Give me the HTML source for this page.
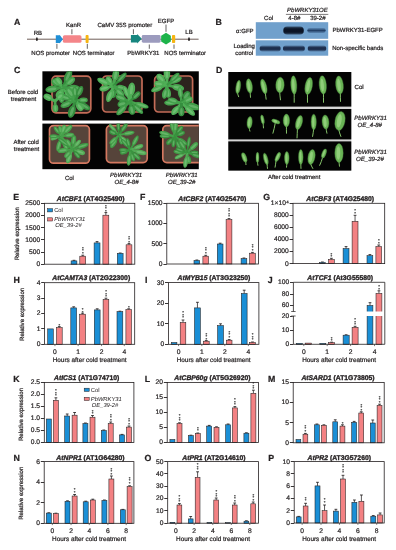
<!DOCTYPE html>
<html><head><meta charset="utf-8"><title>Figure</title>
<style>
html,body{margin:0;padding:0;background:#fff;}
body{width:396px;height:550px;overflow:hidden;}
svg{display:block;}
#w{width:396px;height:550px;}
svg text{font-family:'Liberation Sans', Arial, sans-serif;text-rendering:geometricPrecision;stroke:#231f20;}
svg text{stroke-width:0.22px;}
svg text.tt{stroke-width:0.32px;}
svg text.lg{stroke-width:0.02px;}
svg text.st{stroke-width:0.12px;stroke:#3a3a3a;}
</style></head><body><div id="w">
<svg width="396" height="550" viewBox="0 0 396 550">
<rect width="396" height="550" fill="#fff"/>
<text x="14.00" y="24.80" font-size="8.8" text-anchor="start" font-weight="bold" font-style="normal" fill="#231f20" >A</text>
<line x1="27" y1="39.2" x2="198.6" y2="39.2" stroke="#6e5d58" stroke-width="1"/>
<ellipse cx="36.90" cy="39.2" rx="0.9" ry="1.9" fill="#231f20"/>
<ellipse cx="189.00" cy="39.2" rx="0.9" ry="1.9" fill="#231f20"/>
<text x="37.90" y="34.50" font-size="6.0" text-anchor="middle" font-weight="normal" font-style="normal" fill="#231f20" >RB</text>
<text x="189.00" y="34.00" font-size="6.0" text-anchor="middle" font-weight="normal" font-style="normal" fill="#231f20" >LB</text>
<polygon points="55.8,35.3 59.6,35.3 59.6,34.7 62.9,39.2 59.6,43.6 59.6,43.0 55.8,43.0" fill="#1f8fd6"/>
<rect x="62.9" y="35.3" width="18.6" height="7.5" rx="1.6" fill="#f48589"/>
<rect x="85.6" y="35.1" width="3.0" height="7.9" rx="0.8" fill="#f6b412"/>
<line x1="71.9" y1="29.2" x2="71.9" y2="34.2" stroke="#231f20" stroke-width="0.7"/>
<line x1="56.9" y1="43.8" x2="56.9" y2="48.8" stroke="#231f20" stroke-width="0.7"/>
<line x1="87.3" y1="43.8" x2="87.3" y2="48.8" stroke="#231f20" stroke-width="0.7"/>
<line x1="133.4" y1="29.2" x2="133.4" y2="34.2" stroke="#231f20" stroke-width="0.7"/>
<line x1="166.0" y1="24.6" x2="166.0" y2="31.8" stroke="#231f20" stroke-width="0.7"/>
<line x1="149.3" y1="44.5" x2="149.3" y2="48.8" stroke="#231f20" stroke-width="0.7"/>
<line x1="174.0" y1="44.5" x2="174.0" y2="48.8" stroke="#231f20" stroke-width="0.7"/>
<text x="73.60" y="27.10" font-size="6.0" text-anchor="middle" font-weight="normal" font-style="normal" fill="#231f20" >KanR</text>
<text x="31.30" y="54.80" font-size="6.0" text-anchor="start" font-weight="normal" font-style="normal" fill="#231f20" >NOS promoter</text>
<text x="72.80" y="54.80" font-size="6.0" text-anchor="start" font-weight="normal" font-style="normal" fill="#231f20" >NOS terminator</text>
<text x="97.50" y="27.10" font-size="6.0" text-anchor="start" font-weight="normal" font-style="normal" fill="#231f20" >CaMV 35S promoter</text>
<text x="166.00" y="22.60" font-size="6.0" text-anchor="middle" font-weight="normal" font-style="normal" fill="#231f20" >EGFP</text>
<text x="127.30" y="54.80" font-size="6.0" text-anchor="start" font-weight="normal" font-style="normal" fill="#231f20" >PbWRKY31</text>
<text x="164.30" y="54.90" font-size="6.0" text-anchor="start" font-weight="normal" font-style="normal" fill="#231f20" >NOS terminator</text>
<polygon points="130.9,35.0 137.2,35.0 137.2,33.9 141.8,38.8 137.2,43.6 137.2,42.6 130.9,42.6" fill="#17867f"/>
<rect x="141.8" y="35.0" width="18.8" height="7.7" rx="1.4" fill="#9c9bbe"/>
<polygon points="170.85,41.54 166.00,44.48 161.15,41.54 161.15,35.66 166.00,32.72 170.85,35.66" fill="#1db34a"/>
<rect x="172.0" y="35.1" width="3.2" height="7.9" rx="0.8" fill="#f6b412"/>
<text x="215.60" y="24.60" font-size="8.8" text-anchor="start" font-weight="bold" font-style="normal" fill="#231f20" >B</text>
<rect x="255.8" y="22.2" width="72.4" height="16.6" fill="#70a0cc"/>
<rect x="255.8" y="40.3" width="72.4" height="15.4" fill="#70a0cc"/>
<defs><linearGradient id="bg1" x1="0" y1="0" x2="0" y2="1"><stop offset="0" stop-color="#0b1426" stop-opacity="0.55"/><stop offset="0.3" stop-color="#0b1426"/><stop offset="0.7" stop-color="#0b1426"/><stop offset="1" stop-color="#0b1426" stop-opacity="0.55"/></linearGradient><linearGradient id="bg2" x1="0" y1="0" x2="0" y2="1"><stop offset="0" stop-color="#1c2d4c" stop-opacity="0.35"/><stop offset="0.35" stop-color="#1c2d4c"/><stop offset="0.65" stop-color="#1c2d4c"/><stop offset="1" stop-color="#1c2d4c" stop-opacity="0.35"/></linearGradient><linearGradient id="bg3" x1="0" y1="0" x2="0" y2="1"><stop offset="0" stop-color="#2b4a72" stop-opacity="0.3"/><stop offset="0.5" stop-color="#223f66"/><stop offset="1" stop-color="#2b4a72" stop-opacity="0.3"/></linearGradient></defs>
<rect x="283.3" y="26.4" width="20.5" height="8.2" rx="3.8" fill="url(#bg1)"/>
<rect x="307.3" y="28.0" width="18.4" height="5.0" rx="2.4" fill="url(#bg3)"/>
<rect x="259.7" y="45.6" width="20.9" height="5.8" rx="2.7" fill="url(#bg2)"/>
<rect x="283.0" y="45.6" width="21.8" height="5.8" rx="2.7" fill="url(#bg2)"/>
<rect x="307.8" y="45.6" width="18.4" height="5.8" rx="2.7" fill="url(#bg2)"/>
<text x="268.60" y="20.40" font-size="6.0" text-anchor="middle" font-weight="normal" font-style="normal" fill="#231f20" >Col</text>
<text x="287.10" y="12.30" font-size="6.0" text-anchor="start" font-weight="normal" font-style="italic" fill="#231f20" >PbWRKY31OE</text>
<line x1="285.9" y1="14.4" x2="328.3" y2="14.4" stroke="#231f20" stroke-width="0.6"/>
<text x="288.30" y="20.00" font-size="6.0" text-anchor="start" font-weight="normal" font-style="normal" fill="#231f20" >4-8#</text>
<text x="310.20" y="20.00" font-size="6.0" text-anchor="start" font-weight="normal" font-style="normal" fill="#231f20" >39-2#</text>
<text x="253.60" y="32.70" font-size="6.0" text-anchor="end" font-weight="normal" font-style="normal" fill="#231f20" >α:GFP</text>
<text x="244.20" y="48.00" font-size="6.0" text-anchor="middle" font-weight="normal" font-style="normal" fill="#231f20" >Loading</text>
<text x="244.20" y="54.60" font-size="6.0" text-anchor="middle" font-weight="normal" font-style="normal" fill="#231f20" >control</text>
<text x="332.40" y="31.60" font-size="6.0" text-anchor="start" font-weight="normal" font-style="normal" fill="#231f20" >PbWRKY31-EGFP</text>
<text x="332.20" y="49.80" font-size="6.0" text-anchor="start" font-weight="normal" font-style="normal" fill="#231f20" >Non-specific bands</text>
<text x="13.90" y="73.20" font-size="8.8" text-anchor="start" font-weight="bold" font-style="normal" fill="#231f20" >C</text>
<rect x="42.4" y="71.3" width="156.4" height="49.2" fill="#030303"/>
<rect x="42.4" y="123.6" width="156.4" height="45.6" fill="#030303"/>
<clipPath id="cC1"><rect x="42.4" y="71.3" width="156.4" height="49.2"/></clipPath>
<clipPath id="cC2"><rect x="42.4" y="123.6" width="156.4" height="45.6"/></clipPath>
<g clip-path="url(#cC1)"><rect x="52.0" y="76.2" width="38.8" height="36.6" rx="4" fill="#2c231d" stroke="#c46c58" stroke-width="1.7"/><rect x="102.6" y="76.0" width="39.4" height="36.0" rx="4" fill="#2c231d" stroke="#c46c58" stroke-width="1.7"/><rect x="154.6" y="76.0" width="38.0" height="36.0" rx="4" fill="#2c231d" stroke="#c46c58" stroke-width="1.7"/><line x1="63.00" y1="87.50" x2="66.22" y2="92.81" stroke="#4fae56" stroke-width="2.60"/><ellipse cx="68.88" cy="97.21" rx="6.39" ry="2.89" transform="rotate(58.8 68.88 97.21)" fill="#4fae56"/><ellipse cx="68.88" cy="97.21" rx="4.61" ry="1.15" transform="rotate(58.8 68.88 97.21)" fill="#9ad89a" opacity="0.38"/><line x1="63.00" y1="87.50" x2="62.41" y2="92.90" stroke="#44a14c" stroke-width="2.74"/><ellipse cx="61.93" cy="97.37" rx="5.58" ry="3.05" transform="rotate(96.2 61.93 97.37)" fill="#44a14c"/><ellipse cx="61.93" cy="97.37" rx="4.03" ry="1.22" transform="rotate(96.2 61.93 97.37)" fill="#9ad89a" opacity="0.38"/><line x1="63.00" y1="87.50" x2="61.13" y2="91.31" stroke="#4fae56" stroke-width="3.27"/><ellipse cx="59.58" cy="94.46" rx="4.36" ry="3.63" transform="rotate(116.2 59.58 94.46)" fill="#4fae56"/><ellipse cx="59.58" cy="94.46" rx="3.15" ry="1.45" transform="rotate(116.2 59.58 94.46)" fill="#9ad89a" opacity="0.38"/><line x1="63.00" y1="87.50" x2="56.85" y2="88.41" stroke="#3f9b47" stroke-width="3.11"/><ellipse cx="51.75" cy="89.16" rx="6.40" ry="3.45" transform="rotate(171.6 51.75 89.16)" fill="#3f9b47"/><ellipse cx="51.75" cy="89.16" rx="4.62" ry="1.38" transform="rotate(171.6 51.75 89.16)" fill="#9ad89a" opacity="0.38"/><line x1="63.00" y1="87.50" x2="59.09" y2="84.76" stroke="#3f9b47" stroke-width="3.39"/><ellipse cx="55.85" cy="82.49" rx="4.91" ry="3.77" transform="rotate(215.0 55.85 82.49)" fill="#3f9b47"/><ellipse cx="55.85" cy="82.49" rx="3.55" ry="1.51" transform="rotate(215.0 55.85 82.49)" fill="#9ad89a" opacity="0.38"/><line x1="63.00" y1="87.50" x2="60.53" y2="84.06" stroke="#4fae56" stroke-width="2.93"/><ellipse cx="58.48" cy="81.21" rx="4.35" ry="3.25" transform="rotate(234.3 58.48 81.21)" fill="#4fae56"/><ellipse cx="58.48" cy="81.21" rx="3.14" ry="1.30" transform="rotate(234.3 58.48 81.21)" fill="#9ad89a" opacity="0.38"/><line x1="63.00" y1="87.50" x2="65.75" y2="81.32" stroke="#358e3e" stroke-width="3.14"/><ellipse cx="68.02" cy="76.21" rx="6.95" ry="3.49" transform="rotate(294.0 68.02 76.21)" fill="#358e3e"/><ellipse cx="68.02" cy="76.21" rx="5.02" ry="1.40" transform="rotate(294.0 68.02 76.21)" fill="#9ad89a" opacity="0.38"/><line x1="63.00" y1="87.50" x2="67.09" y2="84.07" stroke="#44a14c" stroke-width="2.88"/><ellipse cx="70.48" cy="81.23" rx="5.49" ry="3.19" transform="rotate(320.0 70.48 81.23)" fill="#44a14c"/><ellipse cx="70.48" cy="81.23" rx="3.96" ry="1.28" transform="rotate(320.0 70.48 81.23)" fill="#9ad89a" opacity="0.38"/><line x1="63.00" y1="87.50" x2="68.96" y2="87.89" stroke="#3f9b47" stroke-width="3.18"/><ellipse cx="73.91" cy="88.21" rx="6.15" ry="3.53" transform="rotate(363.7 73.91 88.21)" fill="#3f9b47"/><ellipse cx="73.91" cy="88.21" rx="4.44" ry="1.41" transform="rotate(363.7 73.91 88.21)" fill="#9ad89a" opacity="0.38"/><line x1="75.50" y1="100.50" x2="79.81" y2="100.32" stroke="#44a14c" stroke-width="2.40"/><ellipse cx="83.39" cy="100.17" rx="4.44" ry="2.67" transform="rotate(357.6 83.39 100.17)" fill="#44a14c"/><ellipse cx="83.39" cy="100.17" rx="3.21" ry="1.07" transform="rotate(357.6 83.39 100.17)" fill="#9ad89a" opacity="0.38"/><line x1="75.50" y1="100.50" x2="80.59" y2="103.59" stroke="#358e3e" stroke-width="2.66"/><ellipse cx="84.81" cy="106.15" rx="6.13" ry="2.95" transform="rotate(391.3 84.81 106.15)" fill="#358e3e"/><ellipse cx="84.81" cy="106.15" rx="4.43" ry="1.18" transform="rotate(391.3 84.81 106.15)" fill="#9ad89a" opacity="0.38"/><line x1="75.50" y1="100.50" x2="77.91" y2="104.01" stroke="#4fae56" stroke-width="3.09"/><ellipse cx="79.91" cy="106.92" rx="4.38" ry="3.43" transform="rotate(415.5 79.91 106.92)" fill="#4fae56"/><ellipse cx="79.91" cy="106.92" rx="3.17" ry="1.37" transform="rotate(415.5 79.91 106.92)" fill="#9ad89a" opacity="0.38"/><line x1="75.50" y1="100.50" x2="73.51" y2="106.50" stroke="#358e3e" stroke-width="3.30"/><ellipse cx="71.87" cy="111.46" rx="6.50" ry="3.66" transform="rotate(468.3 71.87 111.46)" fill="#358e3e"/><ellipse cx="71.87" cy="111.46" rx="4.69" ry="1.46" transform="rotate(468.3 71.87 111.46)" fill="#9ad89a" opacity="0.38"/><line x1="75.50" y1="100.50" x2="70.30" y2="102.64" stroke="#3f9b47" stroke-width="2.82"/><ellipse cx="65.99" cy="104.41" rx="5.78" ry="3.13" transform="rotate(517.7 65.99 104.41)" fill="#3f9b47"/><ellipse cx="65.99" cy="104.41" rx="4.18" ry="1.25" transform="rotate(517.7 65.99 104.41)" fill="#9ad89a" opacity="0.38"/><line x1="75.50" y1="100.50" x2="69.26" y2="98.69" stroke="#3f9b47" stroke-width="2.72"/><ellipse cx="64.09" cy="97.18" rx="6.68" ry="3.03" transform="rotate(556.2 64.09 97.18)" fill="#3f9b47"/><ellipse cx="64.09" cy="97.18" rx="4.83" ry="1.21" transform="rotate(556.2 64.09 97.18)" fill="#9ad89a" opacity="0.38"/><line x1="75.50" y1="100.50" x2="72.57" y2="96.09" stroke="#44a14c" stroke-width="3.32"/><ellipse cx="70.14" cy="92.43" rx="5.45" ry="3.69" transform="rotate(596.4 70.14 92.43)" fill="#44a14c"/><ellipse cx="70.14" cy="92.43" rx="3.94" ry="1.48" transform="rotate(596.4 70.14 92.43)" fill="#9ad89a" opacity="0.38"/><line x1="75.50" y1="100.50" x2="75.16" y2="95.71" stroke="#3f9b47" stroke-width="2.33"/><ellipse cx="74.89" cy="91.75" rx="4.93" ry="2.59" transform="rotate(626.0 74.89 91.75)" fill="#3f9b47"/><ellipse cx="74.89" cy="91.75" rx="3.56" ry="1.04" transform="rotate(626.0 74.89 91.75)" fill="#9ad89a" opacity="0.38"/><line x1="75.50" y1="100.50" x2="77.78" y2="95.46" stroke="#358e3e" stroke-width="2.72"/><ellipse cx="79.67" cy="91.29" rx="5.69" ry="3.02" transform="rotate(654.4 79.67 91.29)" fill="#358e3e"/><ellipse cx="79.67" cy="91.29" rx="4.11" ry="1.21" transform="rotate(654.4 79.67 91.29)" fill="#9ad89a" opacity="0.38"/><line x1="55.00" y1="101.00" x2="55.21" y2="104.94" stroke="#48a64f" stroke-width="2.62"/><ellipse cx="55.38" cy="108.20" rx="4.06" ry="2.92" transform="rotate(87.0 55.38 108.20)" fill="#48a64f"/><ellipse cx="55.38" cy="108.20" rx="2.93" ry="1.17" transform="rotate(87.0 55.38 108.20)" fill="#9ad89a" opacity="0.38"/><line x1="55.00" y1="101.00" x2="51.10" y2="98.92" stroke="#4fae56" stroke-width="2.93"/><ellipse cx="47.86" cy="97.19" rx="4.55" ry="3.26" transform="rotate(208.1 47.86 97.19)" fill="#4fae56"/><ellipse cx="47.86" cy="97.19" rx="3.29" ry="1.30" transform="rotate(208.1 47.86 97.19)" fill="#9ad89a" opacity="0.38"/><line x1="55.00" y1="101.00" x2="57.74" y2="98.57" stroke="#4fae56" stroke-width="3.02"/><ellipse cx="60.01" cy="96.55" rx="3.77" ry="3.36" transform="rotate(318.4 60.01 96.55)" fill="#4fae56"/><ellipse cx="60.01" cy="96.55" rx="2.72" ry="1.34" transform="rotate(318.4 60.01 96.55)" fill="#9ad89a" opacity="0.38"/><line x1="113.50" y1="86.00" x2="113.10" y2="90.22" stroke="#3a9643" stroke-width="3.02"/><ellipse cx="112.76" cy="93.71" rx="4.36" ry="3.35" transform="rotate(95.5 112.76 93.71)" fill="#3a9643"/><ellipse cx="112.76" cy="93.71" rx="3.15" ry="1.34" transform="rotate(95.5 112.76 93.71)" fill="#9ad89a" opacity="0.38"/><line x1="113.50" y1="86.00" x2="111.39" y2="91.58" stroke="#4fae56" stroke-width="2.80"/><ellipse cx="109.64" cy="96.20" rx="6.13" ry="3.11" transform="rotate(110.7 109.64 96.20)" fill="#4fae56"/><ellipse cx="109.64" cy="96.20" rx="4.43" ry="1.24" transform="rotate(110.7 109.64 96.20)" fill="#9ad89a" opacity="0.38"/><line x1="113.50" y1="86.00" x2="108.58" y2="87.24" stroke="#4fae56" stroke-width="2.74"/><ellipse cx="104.50" cy="88.27" rx="5.22" ry="3.04" transform="rotate(165.9 104.50 88.27)" fill="#4fae56"/><ellipse cx="104.50" cy="88.27" rx="3.77" ry="1.22" transform="rotate(165.9 104.50 88.27)" fill="#9ad89a" opacity="0.38"/><line x1="113.50" y1="86.00" x2="107.84" y2="83.50" stroke="#4fae56" stroke-width="2.68"/><ellipse cx="103.16" cy="81.44" rx="6.36" ry="2.98" transform="rotate(203.8 103.16 81.44)" fill="#4fae56"/><ellipse cx="103.16" cy="81.44" rx="4.59" ry="1.19" transform="rotate(203.8 103.16 81.44)" fill="#9ad89a" opacity="0.38"/><line x1="113.50" y1="86.00" x2="111.15" y2="82.80" stroke="#4fae56" stroke-width="2.53"/><ellipse cx="109.20" cy="80.15" rx="4.08" ry="2.81" transform="rotate(233.6 109.20 80.15)" fill="#4fae56"/><ellipse cx="109.20" cy="80.15" rx="2.95" ry="1.12" transform="rotate(233.6 109.20 80.15)" fill="#9ad89a" opacity="0.38"/><line x1="113.50" y1="86.00" x2="114.67" y2="79.89" stroke="#48a64f" stroke-width="3.04"/><ellipse cx="115.64" cy="74.84" rx="6.39" ry="3.38" transform="rotate(280.8 115.64 74.84)" fill="#48a64f"/><ellipse cx="115.64" cy="74.84" rx="4.62" ry="1.35" transform="rotate(280.8 115.64 74.84)" fill="#9ad89a" opacity="0.38"/><line x1="113.50" y1="86.00" x2="117.99" y2="81.41" stroke="#358e3e" stroke-width="2.30"/><ellipse cx="121.71" cy="77.61" rx="6.60" ry="2.56" transform="rotate(314.4 121.71 77.61)" fill="#358e3e"/><ellipse cx="121.71" cy="77.61" rx="4.77" ry="1.02" transform="rotate(314.4 121.71 77.61)" fill="#9ad89a" opacity="0.38"/><line x1="113.50" y1="86.00" x2="117.61" y2="86.84" stroke="#44a14c" stroke-width="2.30"/><ellipse cx="121.01" cy="87.53" rx="4.31" ry="2.55" transform="rotate(371.5 121.01 87.53)" fill="#44a14c"/><ellipse cx="121.01" cy="87.53" rx="3.11" ry="1.02" transform="rotate(371.5 121.01 87.53)" fill="#9ad89a" opacity="0.38"/><line x1="113.50" y1="86.00" x2="117.01" y2="89.81" stroke="#44a14c" stroke-width="2.96"/><ellipse cx="119.91" cy="92.96" rx="5.32" ry="3.29" transform="rotate(407.4 119.91 92.96)" fill="#44a14c"/><ellipse cx="119.91" cy="92.96" rx="3.84" ry="1.31" transform="rotate(407.4 119.91 92.96)" fill="#9ad89a" opacity="0.38"/><line x1="130.00" y1="101.50" x2="125.66" y2="102.84" stroke="#3a9643" stroke-width="3.20"/><ellipse cx="122.07" cy="103.94" rx="4.67" ry="3.55" transform="rotate(162.9 122.07 103.94)" fill="#3a9643"/><ellipse cx="122.07" cy="103.94" rx="3.37" ry="1.42" transform="rotate(162.9 122.07 103.94)" fill="#9ad89a" opacity="0.38"/><line x1="130.00" y1="101.50" x2="124.98" y2="99.49" stroke="#3f9b47" stroke-width="2.91"/><ellipse cx="120.82" cy="97.82" rx="5.56" ry="3.23" transform="rotate(201.8 120.82 97.82)" fill="#3f9b47"/><ellipse cx="120.82" cy="97.82" rx="4.02" ry="1.29" transform="rotate(201.8 120.82 97.82)" fill="#9ad89a" opacity="0.38"/><line x1="130.00" y1="101.50" x2="127.85" y2="96.10" stroke="#4fae56" stroke-width="2.28"/><ellipse cx="126.07" cy="91.62" rx="5.98" ry="2.53" transform="rotate(248.3 126.07 91.62)" fill="#4fae56"/><ellipse cx="126.07" cy="91.62" rx="4.32" ry="1.01" transform="rotate(248.3 126.07 91.62)" fill="#9ad89a" opacity="0.38"/><line x1="130.00" y1="101.50" x2="130.79" y2="94.85" stroke="#4fae56" stroke-width="3.29"/><ellipse cx="131.44" cy="89.34" rx="6.89" ry="3.66" transform="rotate(276.8 131.44 89.34)" fill="#4fae56"/><ellipse cx="131.44" cy="89.34" rx="4.98" ry="1.46" transform="rotate(276.8 131.44 89.34)" fill="#9ad89a" opacity="0.38"/><line x1="130.00" y1="101.50" x2="133.48" y2="98.19" stroke="#358e3e" stroke-width="2.36"/><ellipse cx="136.36" cy="95.44" rx="4.94" ry="2.62" transform="rotate(316.4 136.36 95.44)" fill="#358e3e"/><ellipse cx="136.36" cy="95.44" rx="3.57" ry="1.05" transform="rotate(316.4 136.36 95.44)" fill="#9ad89a" opacity="0.38"/><line x1="130.00" y1="101.50" x2="136.49" y2="103.59" stroke="#48a64f" stroke-width="2.30"/><ellipse cx="141.87" cy="105.32" rx="7.01" ry="2.56" transform="rotate(377.8 141.87 105.32)" fill="#48a64f"/><ellipse cx="141.87" cy="105.32" rx="5.07" ry="1.02" transform="rotate(377.8 141.87 105.32)" fill="#9ad89a" opacity="0.38"/><line x1="130.00" y1="101.50" x2="134.49" y2="105.72" stroke="#3f9b47" stroke-width="2.35"/><ellipse cx="138.22" cy="109.21" rx="6.34" ry="2.61" transform="rotate(403.2 138.22 109.21)" fill="#3f9b47"/><ellipse cx="138.22" cy="109.21" rx="4.58" ry="1.04" transform="rotate(403.2 138.22 109.21)" fill="#9ad89a" opacity="0.38"/><line x1="130.00" y1="101.50" x2="131.00" y2="106.16" stroke="#3a9643" stroke-width="3.12"/><ellipse cx="131.84" cy="110.02" rx="4.90" ry="3.46" transform="rotate(437.8 131.84 110.02)" fill="#3a9643"/><ellipse cx="131.84" cy="110.02" rx="3.54" ry="1.39" transform="rotate(437.8 131.84 110.02)" fill="#9ad89a" opacity="0.38"/><line x1="130.00" y1="101.50" x2="125.34" y2="106.18" stroke="#3f9b47" stroke-width="2.67"/><ellipse cx="121.48" cy="110.06" rx="6.79" ry="2.97" transform="rotate(494.9 121.48 110.06)" fill="#3f9b47"/><ellipse cx="121.48" cy="110.06" rx="4.91" ry="1.19" transform="rotate(494.9 121.48 110.06)" fill="#9ad89a" opacity="0.38"/><line x1="167.00" y1="85.00" x2="172.14" y2="82.36" stroke="#44a14c" stroke-width="2.41"/><ellipse cx="176.39" cy="80.18" rx="5.94" ry="2.68" transform="rotate(332.8 176.39 80.18)" fill="#44a14c"/><ellipse cx="176.39" cy="80.18" rx="4.29" ry="1.07" transform="rotate(332.8 176.39 80.18)" fill="#9ad89a" opacity="0.38"/><line x1="167.00" y1="85.00" x2="172.98" y2="86.38" stroke="#48a64f" stroke-width="2.99"/><ellipse cx="177.93" cy="87.52" rx="6.31" ry="3.32" transform="rotate(373.0 177.93 87.52)" fill="#48a64f"/><ellipse cx="177.93" cy="87.52" rx="4.56" ry="1.33" transform="rotate(373.0 177.93 87.52)" fill="#9ad89a" opacity="0.38"/><line x1="167.00" y1="85.00" x2="167.59" y2="89.49" stroke="#48a64f" stroke-width="2.61"/><ellipse cx="168.08" cy="93.20" rx="4.65" ry="2.90" transform="rotate(442.5 168.08 93.20)" fill="#48a64f"/><ellipse cx="168.08" cy="93.20" rx="3.36" ry="1.16" transform="rotate(442.5 168.08 93.20)" fill="#9ad89a" opacity="0.38"/><line x1="167.00" y1="85.00" x2="165.88" y2="89.78" stroke="#44a14c" stroke-width="2.62"/><ellipse cx="164.96" cy="93.74" rx="5.05" ry="2.91" transform="rotate(463.2 164.96 93.74)" fill="#44a14c"/><ellipse cx="164.96" cy="93.74" rx="3.65" ry="1.16" transform="rotate(463.2 164.96 93.74)" fill="#9ad89a" opacity="0.38"/><line x1="167.00" y1="85.00" x2="161.47" y2="87.15" stroke="#48a64f" stroke-width="2.48"/><ellipse cx="156.90" cy="88.93" rx="6.10" ry="2.76" transform="rotate(518.7 156.90 88.93)" fill="#48a64f"/><ellipse cx="156.90" cy="88.93" rx="4.41" ry="1.10" transform="rotate(518.7 156.90 88.93)" fill="#9ad89a" opacity="0.38"/><line x1="167.00" y1="85.00" x2="162.54" y2="84.39" stroke="#4fae56" stroke-width="2.74"/><ellipse cx="158.84" cy="83.88" rx="4.63" ry="3.04" transform="rotate(547.8 158.84 83.88)" fill="#4fae56"/><ellipse cx="158.84" cy="83.88" rx="3.35" ry="1.22" transform="rotate(547.8 158.84 83.88)" fill="#9ad89a" opacity="0.38"/><line x1="167.00" y1="85.00" x2="163.55" y2="81.27" stroke="#4fae56" stroke-width="3.12"/><ellipse cx="160.68" cy="78.18" rx="5.23" ry="3.47" transform="rotate(587.2 160.68 78.18)" fill="#4fae56"/><ellipse cx="160.68" cy="78.18" rx="3.78" ry="1.39" transform="rotate(587.2 160.68 78.18)" fill="#9ad89a" opacity="0.38"/><line x1="167.00" y1="85.00" x2="166.95" y2="78.74" stroke="#4fae56" stroke-width="2.95"/><ellipse cx="166.92" cy="73.55" rx="6.44" ry="3.28" transform="rotate(629.6 166.92 73.55)" fill="#4fae56"/><ellipse cx="166.92" cy="73.55" rx="4.65" ry="1.31" transform="rotate(629.6 166.92 73.55)" fill="#9ad89a" opacity="0.38"/><line x1="167.00" y1="85.00" x2="171.27" y2="80.84" stroke="#3a9643" stroke-width="2.31"/><ellipse cx="174.81" cy="77.40" rx="6.13" ry="2.56" transform="rotate(675.8 174.81 77.40)" fill="#3a9643"/><ellipse cx="174.81" cy="77.40" rx="4.43" ry="1.02" transform="rotate(675.8 174.81 77.40)" fill="#9ad89a" opacity="0.38"/><line x1="181.50" y1="103.00" x2="178.14" y2="107.07" stroke="#4fae56" stroke-width="2.73"/><ellipse cx="175.35" cy="110.45" rx="5.43" ry="3.03" transform="rotate(129.6 175.35 110.45)" fill="#4fae56"/><ellipse cx="175.35" cy="110.45" rx="3.92" ry="1.21" transform="rotate(129.6 175.35 110.45)" fill="#9ad89a" opacity="0.38"/><line x1="181.50" y1="103.00" x2="175.43" y2="102.92" stroke="#44a14c" stroke-width="2.50"/><ellipse cx="170.40" cy="102.85" rx="6.24" ry="2.77" transform="rotate(180.8 170.40 102.85)" fill="#44a14c"/><ellipse cx="170.40" cy="102.85" rx="4.51" ry="1.11" transform="rotate(180.8 170.40 102.85)" fill="#9ad89a" opacity="0.38"/><line x1="181.50" y1="103.00" x2="176.71" y2="101.67" stroke="#44a14c" stroke-width="2.61"/><ellipse cx="172.73" cy="100.58" rx="5.12" ry="2.90" transform="rotate(195.5 172.73 100.58)" fill="#44a14c"/><ellipse cx="172.73" cy="100.58" rx="3.69" ry="1.16" transform="rotate(195.5 172.73 100.58)" fill="#9ad89a" opacity="0.38"/><line x1="181.50" y1="103.00" x2="180.87" y2="97.26" stroke="#44a14c" stroke-width="2.26"/><ellipse cx="180.34" cy="92.50" rx="5.94" ry="2.51" transform="rotate(263.7 180.34 92.50)" fill="#44a14c"/><ellipse cx="180.34" cy="92.50" rx="4.29" ry="1.00" transform="rotate(263.7 180.34 92.50)" fill="#9ad89a" opacity="0.38"/><line x1="181.50" y1="103.00" x2="184.20" y2="98.98" stroke="#358e3e" stroke-width="3.23"/><ellipse cx="186.43" cy="95.64" rx="4.98" ry="3.59" transform="rotate(303.8 186.43 95.64)" fill="#358e3e"/><ellipse cx="186.43" cy="95.64" rx="3.60" ry="1.44" transform="rotate(303.8 186.43 95.64)" fill="#9ad89a" opacity="0.38"/><line x1="181.50" y1="103.00" x2="185.35" y2="101.22" stroke="#48a64f" stroke-width="2.74"/><ellipse cx="188.53" cy="99.75" rx="4.36" ry="3.05" transform="rotate(335.2 188.53 99.75)" fill="#48a64f"/><ellipse cx="188.53" cy="99.75" rx="3.15" ry="1.22" transform="rotate(335.2 188.53 99.75)" fill="#9ad89a" opacity="0.38"/><line x1="181.50" y1="103.00" x2="188.03" y2="104.90" stroke="#3f9b47" stroke-width="3.11"/><ellipse cx="193.44" cy="106.48" rx="7.00" ry="3.45" transform="rotate(376.3 193.44 106.48)" fill="#3f9b47"/><ellipse cx="193.44" cy="106.48" rx="5.05" ry="1.38" transform="rotate(376.3 193.44 106.48)" fill="#9ad89a" opacity="0.38"/><line x1="181.50" y1="103.00" x2="186.10" y2="107.27" stroke="#4fae56" stroke-width="2.62"/><ellipse cx="189.91" cy="110.81" rx="6.45" ry="2.91" transform="rotate(402.9 189.91 110.81)" fill="#4fae56"/><ellipse cx="189.91" cy="110.81" rx="4.66" ry="1.16" transform="rotate(402.9 189.91 110.81)" fill="#9ad89a" opacity="0.38"/><line x1="181.50" y1="103.00" x2="181.45" y2="107.63" stroke="#358e3e" stroke-width="2.86"/><ellipse cx="181.40" cy="111.46" rx="4.76" ry="3.18" transform="rotate(450.7 181.40 111.46)" fill="#358e3e"/><ellipse cx="181.40" cy="111.46" rx="3.44" ry="1.27" transform="rotate(450.7 181.40 111.46)" fill="#9ad89a" opacity="0.38"/></g>
<g clip-path="url(#cC2)"><rect x="49.5" y="125.6" width="39.9" height="37.6" rx="4" fill="#56443a" stroke="#d47860" stroke-width="1.7"/><rect x="106.4" y="125.6" width="40.8" height="37.0" rx="4" fill="#56443a" stroke="#d47860" stroke-width="1.7"/><rect x="162.8" y="125.6" width="40.2" height="37.0" rx="4" fill="#56443a" stroke="#d47860" stroke-width="1.7"/><line x1="61.20" y1="136.20" x2="65.77" y2="135.62" stroke="#46a04a" stroke-width="2.13"/><ellipse cx="69.55" cy="135.14" rx="4.73" ry="2.36" transform="rotate(-7.2 69.55 135.14)" fill="#46a04a"/><ellipse cx="69.55" cy="135.14" rx="3.42" ry="0.94" transform="rotate(-7.2 69.55 135.14)" fill="#9ad89a" opacity="0.38"/><line x1="61.20" y1="136.20" x2="64.11" y2="140.19" stroke="#46a04a" stroke-width="2.15"/><ellipse cx="66.52" cy="143.50" rx="5.08" ry="2.39" transform="rotate(53.9 66.52 143.50)" fill="#46a04a"/><ellipse cx="66.52" cy="143.50" rx="3.67" ry="0.95" transform="rotate(53.9 66.52 143.50)" fill="#9ad89a" opacity="0.38"/><line x1="61.20" y1="136.20" x2="63.42" y2="141.15" stroke="#46a04a" stroke-width="2.11"/><ellipse cx="65.26" cy="145.25" rx="5.58" ry="2.34" transform="rotate(65.8 65.26 145.25)" fill="#46a04a"/><ellipse cx="65.26" cy="145.25" rx="4.03" ry="0.94" transform="rotate(65.8 65.26 145.25)" fill="#9ad89a" opacity="0.38"/><line x1="61.20" y1="136.20" x2="59.86" y2="141.44" stroke="#46a04a" stroke-width="2.00"/><ellipse cx="58.75" cy="145.78" rx="5.56" ry="2.22" transform="rotate(104.4 58.75 145.78)" fill="#46a04a"/><ellipse cx="58.75" cy="145.78" rx="4.02" ry="0.89" transform="rotate(104.4 58.75 145.78)" fill="#9ad89a" opacity="0.38"/><line x1="61.20" y1="136.20" x2="57.47" y2="137.32" stroke="#52aa55" stroke-width="1.60"/><ellipse cx="54.38" cy="138.25" rx="4.01" ry="1.78" transform="rotate(163.3 54.38 138.25)" fill="#52aa55"/><ellipse cx="54.38" cy="138.25" rx="2.89" ry="0.71" transform="rotate(163.3 54.38 138.25)" fill="#9ad89a" opacity="0.38"/><line x1="61.20" y1="136.20" x2="57.04" y2="136.22" stroke="#3f9944" stroke-width="1.89"/><ellipse cx="53.59" cy="136.24" rx="4.28" ry="2.10" transform="rotate(179.7 53.59 136.24)" fill="#3f9944"/><ellipse cx="53.59" cy="136.24" rx="3.09" ry="0.84" transform="rotate(179.7 53.59 136.24)" fill="#9ad89a" opacity="0.38"/><line x1="61.20" y1="136.20" x2="58.75" y2="132.82" stroke="#3f9944" stroke-width="1.76"/><ellipse cx="56.72" cy="130.02" rx="4.29" ry="1.95" transform="rotate(234.1 56.72 130.02)" fill="#3f9944"/><ellipse cx="56.72" cy="130.02" rx="3.10" ry="0.78" transform="rotate(234.1 56.72 130.02)" fill="#9ad89a" opacity="0.38"/><line x1="61.20" y1="136.20" x2="60.62" y2="132.43" stroke="#46a04a" stroke-width="1.62"/><ellipse cx="60.14" cy="129.30" rx="3.93" ry="1.81" transform="rotate(261.3 60.14 129.30)" fill="#46a04a"/><ellipse cx="60.14" cy="129.30" rx="2.84" ry="0.72" transform="rotate(261.3 60.14 129.30)" fill="#9ad89a" opacity="0.38"/><line x1="61.20" y1="136.20" x2="62.49" y2="132.25" stroke="#52aa55" stroke-width="2.25"/><ellipse cx="63.56" cy="128.97" rx="4.28" ry="2.50" transform="rotate(288.1 63.56 128.97)" fill="#52aa55"/><ellipse cx="63.56" cy="128.97" rx="3.09" ry="1.00" transform="rotate(288.1 63.56 128.97)" fill="#9ad89a" opacity="0.38"/><line x1="61.20" y1="136.20" x2="64.98" y2="132.33" stroke="#46a04a" stroke-width="2.27"/><ellipse cx="68.11" cy="129.12" rx="5.57" ry="2.52" transform="rotate(314.3 68.11 129.12)" fill="#46a04a"/><ellipse cx="68.11" cy="129.12" rx="4.02" ry="1.01" transform="rotate(314.3 68.11 129.12)" fill="#9ad89a" opacity="0.38"/><line x1="72.30" y1="149.30" x2="76.72" y2="150.85" stroke="#52aa55" stroke-width="2.30"/><ellipse cx="80.38" cy="152.13" rx="4.82" ry="2.55" transform="rotate(19.3 80.38 152.13)" fill="#52aa55"/><ellipse cx="80.38" cy="152.13" rx="3.48" ry="1.02" transform="rotate(19.3 80.38 152.13)" fill="#9ad89a" opacity="0.38"/><line x1="72.30" y1="149.30" x2="74.90" y2="152.36" stroke="#37903d" stroke-width="1.84"/><ellipse cx="77.06" cy="154.89" rx="4.13" ry="2.05" transform="rotate(49.6 77.06 154.89)" fill="#37903d"/><ellipse cx="77.06" cy="154.89" rx="2.98" ry="0.82" transform="rotate(49.6 77.06 154.89)" fill="#9ad89a" opacity="0.38"/><line x1="72.30" y1="149.30" x2="70.49" y2="154.22" stroke="#52aa55" stroke-width="2.33"/><ellipse cx="69.00" cy="158.29" rx="5.39" ry="2.59" transform="rotate(110.2 69.00 158.29)" fill="#52aa55"/><ellipse cx="69.00" cy="158.29" rx="3.89" ry="1.04" transform="rotate(110.2 69.00 158.29)" fill="#9ad89a" opacity="0.38"/><line x1="72.30" y1="149.30" x2="69.68" y2="152.21" stroke="#46a04a" stroke-width="2.18"/><ellipse cx="67.50" cy="154.63" rx="4.03" ry="2.42" transform="rotate(132.0 67.50 154.63)" fill="#46a04a"/><ellipse cx="67.50" cy="154.63" rx="2.91" ry="0.97" transform="rotate(132.0 67.50 154.63)" fill="#9ad89a" opacity="0.38"/><line x1="72.30" y1="149.30" x2="67.20" y2="149.96" stroke="#46a04a" stroke-width="2.20"/><ellipse cx="62.97" cy="150.51" rx="5.29" ry="2.44" transform="rotate(172.6 62.97 150.51)" fill="#46a04a"/><ellipse cx="62.97" cy="150.51" rx="3.82" ry="0.98" transform="rotate(172.6 62.97 150.51)" fill="#9ad89a" opacity="0.38"/><line x1="72.30" y1="149.30" x2="67.32" y2="145.41" stroke="#3a9440" stroke-width="1.74"/><ellipse cx="63.19" cy="142.19" rx="6.50" ry="1.94" transform="rotate(218.0 63.19 142.19)" fill="#3a9440"/><ellipse cx="63.19" cy="142.19" rx="4.70" ry="0.77" transform="rotate(218.0 63.19 142.19)" fill="#9ad89a" opacity="0.38"/><line x1="72.30" y1="149.30" x2="70.23" y2="145.87" stroke="#46a04a" stroke-width="2.00"/><ellipse cx="68.51" cy="143.02" rx="4.12" ry="2.22" transform="rotate(238.9 68.51 143.02)" fill="#46a04a"/><ellipse cx="68.51" cy="143.02" rx="2.98" ry="0.89" transform="rotate(238.9 68.51 143.02)" fill="#9ad89a" opacity="0.38"/><line x1="72.30" y1="149.30" x2="73.00" y2="144.34" stroke="#3f9944" stroke-width="2.31"/><ellipse cx="73.58" cy="140.23" rx="5.15" ry="2.57" transform="rotate(278.0 73.58 140.23)" fill="#3f9944"/><ellipse cx="73.58" cy="140.23" rx="3.72" ry="1.03" transform="rotate(278.0 73.58 140.23)" fill="#9ad89a" opacity="0.38"/><line x1="72.30" y1="149.30" x2="75.17" y2="146.05" stroke="#52aa55" stroke-width="1.83"/><ellipse cx="77.54" cy="143.36" rx="4.46" ry="2.03" transform="rotate(311.5 77.54 143.36)" fill="#52aa55"/><ellipse cx="77.54" cy="143.36" rx="3.22" ry="0.81" transform="rotate(311.5 77.54 143.36)" fill="#9ad89a" opacity="0.38"/><line x1="72.30" y1="149.30" x2="77.98" y2="147.44" stroke="#3f9944" stroke-width="2.17"/><ellipse cx="82.68" cy="145.91" rx="6.14" ry="2.41" transform="rotate(341.9 82.68 145.91)" fill="#3f9944"/><ellipse cx="82.68" cy="145.91" rx="4.44" ry="0.96" transform="rotate(341.9 82.68 145.91)" fill="#9ad89a" opacity="0.38"/><line x1="118.90" y1="135.00" x2="115.54" y2="131.26" stroke="#52aa55" stroke-width="1.56"/><ellipse cx="112.76" cy="128.16" rx="5.17" ry="1.74" transform="rotate(228.1 112.76 128.16)" fill="#52aa55"/><ellipse cx="112.76" cy="128.16" rx="3.73" ry="0.69" transform="rotate(228.1 112.76 128.16)" fill="#9ad89a" opacity="0.38"/><line x1="118.90" y1="135.00" x2="118.61" y2="130.24" stroke="#37903d" stroke-width="1.64"/><ellipse cx="118.36" cy="126.29" rx="4.91" ry="1.82" transform="rotate(266.5 118.36 126.29)" fill="#37903d"/><ellipse cx="118.36" cy="126.29" rx="3.54" ry="0.73" transform="rotate(266.5 118.36 126.29)" fill="#9ad89a" opacity="0.38"/><line x1="118.90" y1="135.00" x2="121.77" y2="130.91" stroke="#37903d" stroke-width="1.98"/><ellipse cx="124.15" cy="127.52" rx="5.14" ry="2.20" transform="rotate(305.1 124.15 127.52)" fill="#37903d"/><ellipse cx="124.15" cy="127.52" rx="3.71" ry="0.88" transform="rotate(305.1 124.15 127.52)" fill="#9ad89a" opacity="0.38"/><line x1="118.90" y1="135.00" x2="124.36" y2="133.98" stroke="#46a04a" stroke-width="1.95"/><ellipse cx="128.88" cy="133.13" rx="5.71" ry="2.17" transform="rotate(349.4 128.88 133.13)" fill="#46a04a"/><ellipse cx="128.88" cy="133.13" rx="4.13" ry="0.87" transform="rotate(349.4 128.88 133.13)" fill="#9ad89a" opacity="0.38"/><line x1="118.90" y1="135.00" x2="121.54" y2="137.48" stroke="#52aa55" stroke-width="1.88"/><ellipse cx="123.72" cy="139.53" rx="3.72" ry="2.09" transform="rotate(403.2 123.72 139.53)" fill="#52aa55"/><ellipse cx="123.72" cy="139.53" rx="2.69" ry="0.84" transform="rotate(403.2 123.72 139.53)" fill="#9ad89a" opacity="0.38"/><line x1="118.90" y1="135.00" x2="120.02" y2="138.27" stroke="#3f9944" stroke-width="1.80"/><ellipse cx="120.96" cy="140.98" rx="3.55" ry="1.99" transform="rotate(431.0 120.96 140.98)" fill="#3f9944"/><ellipse cx="120.96" cy="140.98" rx="2.57" ry="0.80" transform="rotate(431.0 120.96 140.98)" fill="#9ad89a" opacity="0.38"/><line x1="118.90" y1="135.00" x2="116.03" y2="139.50" stroke="#3f9944" stroke-width="2.26"/><ellipse cx="113.66" cy="143.23" rx="5.49" ry="2.51" transform="rotate(482.5 113.66 143.23)" fill="#3f9944"/><ellipse cx="113.66" cy="143.23" rx="3.96" ry="1.01" transform="rotate(482.5 113.66 143.23)" fill="#9ad89a" opacity="0.38"/><line x1="118.90" y1="135.00" x2="115.68" y2="138.11" stroke="#46a04a" stroke-width="1.70"/><ellipse cx="113.01" cy="140.69" rx="4.61" ry="1.89" transform="rotate(495.9 113.01 140.69)" fill="#46a04a"/><ellipse cx="113.01" cy="140.69" rx="3.33" ry="0.76" transform="rotate(495.9 113.01 140.69)" fill="#9ad89a" opacity="0.38"/><line x1="118.90" y1="135.00" x2="115.54" y2="133.64" stroke="#37903d" stroke-width="2.10"/><ellipse cx="112.76" cy="132.52" rx="3.72" ry="2.33" transform="rotate(562.0 112.76 132.52)" fill="#37903d"/><ellipse cx="112.76" cy="132.52" rx="2.69" ry="0.93" transform="rotate(562.0 112.76 132.52)" fill="#9ad89a" opacity="0.38"/><line x1="130.30" y1="150.00" x2="131.57" y2="153.94" stroke="#3f9944" stroke-width="1.81"/><ellipse cx="132.62" cy="157.20" rx="4.25" ry="2.01" transform="rotate(72.1 132.62 157.20)" fill="#3f9944"/><ellipse cx="132.62" cy="157.20" rx="3.07" ry="0.80" transform="rotate(72.1 132.62 157.20)" fill="#9ad89a" opacity="0.38"/><line x1="130.30" y1="150.00" x2="129.65" y2="155.52" stroke="#46a04a" stroke-width="2.02"/><ellipse cx="129.11" cy="160.10" rx="5.72" ry="2.25" transform="rotate(96.7 129.11 160.10)" fill="#46a04a"/><ellipse cx="129.11" cy="160.10" rx="4.13" ry="0.90" transform="rotate(96.7 129.11 160.10)" fill="#9ad89a" opacity="0.38"/><line x1="130.30" y1="150.00" x2="126.76" y2="151.20" stroke="#3a9440" stroke-width="2.02"/><ellipse cx="123.82" cy="152.19" rx="3.85" ry="2.25" transform="rotate(161.3 123.82 152.19)" fill="#3a9440"/><ellipse cx="123.82" cy="152.19" rx="2.78" ry="0.90" transform="rotate(161.3 123.82 152.19)" fill="#9ad89a" opacity="0.38"/><line x1="130.30" y1="150.00" x2="126.37" y2="150.03" stroke="#3a9440" stroke-width="1.77"/><ellipse cx="123.11" cy="150.06" rx="4.04" ry="1.97" transform="rotate(179.5 123.11 150.06)" fill="#3a9440"/><ellipse cx="123.11" cy="150.06" rx="2.92" ry="0.79" transform="rotate(179.5 123.11 150.06)" fill="#9ad89a" opacity="0.38"/><line x1="130.30" y1="150.00" x2="127.20" y2="146.22" stroke="#3a9440" stroke-width="1.74"/><ellipse cx="124.62" cy="143.10" rx="5.03" ry="1.93" transform="rotate(230.6 124.62 143.10)" fill="#3a9440"/><ellipse cx="124.62" cy="143.10" rx="3.63" ry="0.77" transform="rotate(230.6 124.62 143.10)" fill="#9ad89a" opacity="0.38"/><line x1="130.30" y1="150.00" x2="129.14" y2="145.88" stroke="#3a9440" stroke-width="1.75"/><ellipse cx="128.19" cy="142.46" rx="4.41" ry="1.95" transform="rotate(254.4 128.19 142.46)" fill="#3a9440"/><ellipse cx="128.19" cy="142.46" rx="3.18" ry="0.78" transform="rotate(254.4 128.19 142.46)" fill="#9ad89a" opacity="0.38"/><line x1="130.30" y1="150.00" x2="133.01" y2="144.97" stroke="#3f9944" stroke-width="2.00"/><ellipse cx="135.25" cy="140.79" rx="5.88" ry="2.23" transform="rotate(298.3 135.25 140.79)" fill="#3f9944"/><ellipse cx="135.25" cy="140.79" rx="4.25" ry="0.89" transform="rotate(298.3 135.25 140.79)" fill="#9ad89a" opacity="0.38"/><line x1="130.30" y1="150.00" x2="134.81" y2="148.32" stroke="#52aa55" stroke-width="2.08"/><ellipse cx="138.54" cy="146.92" rx="4.95" ry="2.31" transform="rotate(339.5 138.54 146.92)" fill="#52aa55"/><ellipse cx="138.54" cy="146.92" rx="3.57" ry="0.92" transform="rotate(339.5 138.54 146.92)" fill="#9ad89a" opacity="0.38"/><line x1="130.30" y1="150.00" x2="136.07" y2="151.29" stroke="#52aa55" stroke-width="2.24"/><ellipse cx="140.84" cy="152.35" rx="6.08" ry="2.49" transform="rotate(372.6 140.84 152.35)" fill="#52aa55"/><ellipse cx="140.84" cy="152.35" rx="4.39" ry="1.00" transform="rotate(372.6 140.84 152.35)" fill="#9ad89a" opacity="0.38"/><line x1="130.30" y1="150.00" x2="133.75" y2="153.35" stroke="#3a9440" stroke-width="1.91"/><ellipse cx="136.61" cy="156.12" rx="4.94" ry="2.13" transform="rotate(404.1 136.61 156.12)" fill="#3a9440"/><ellipse cx="136.61" cy="156.12" rx="3.57" ry="0.85" transform="rotate(404.1 136.61 156.12)" fill="#9ad89a" opacity="0.38"/><line x1="174.50" y1="136.20" x2="173.99" y2="140.04" stroke="#3a9440" stroke-width="1.77"/><ellipse cx="173.57" cy="143.21" rx="3.98" ry="1.96" transform="rotate(97.5 173.57 143.21)" fill="#3a9440"/><ellipse cx="173.57" cy="143.21" rx="2.87" ry="0.79" transform="rotate(97.5 173.57 143.21)" fill="#9ad89a" opacity="0.38"/><line x1="174.50" y1="136.20" x2="171.79" y2="139.07" stroke="#37903d" stroke-width="2.12"/><ellipse cx="169.54" cy="141.44" rx="4.06" ry="2.36" transform="rotate(133.4 169.54 141.44)" fill="#37903d"/><ellipse cx="169.54" cy="141.44" rx="2.93" ry="0.94" transform="rotate(133.4 169.54 141.44)" fill="#9ad89a" opacity="0.38"/><line x1="174.50" y1="136.20" x2="169.29" y2="136.15" stroke="#3a9440" stroke-width="2.19"/><ellipse cx="164.98" cy="136.11" rx="5.36" ry="2.44" transform="rotate(180.5 164.98 136.11)" fill="#3a9440"/><ellipse cx="164.98" cy="136.11" rx="3.87" ry="0.97" transform="rotate(180.5 164.98 136.11)" fill="#9ad89a" opacity="0.38"/><line x1="174.50" y1="136.20" x2="169.13" y2="134.77" stroke="#46a04a" stroke-width="2.07"/><ellipse cx="164.69" cy="133.58" rx="5.71" ry="2.30" transform="rotate(194.9 164.69 133.58)" fill="#46a04a"/><ellipse cx="164.69" cy="133.58" rx="4.13" ry="0.92" transform="rotate(194.9 164.69 133.58)" fill="#9ad89a" opacity="0.38"/><line x1="174.50" y1="136.20" x2="173.24" y2="130.88" stroke="#3f9944" stroke-width="1.84"/><ellipse cx="172.19" cy="126.46" rx="5.63" ry="2.04" transform="rotate(256.7 172.19 126.46)" fill="#3f9944"/><ellipse cx="172.19" cy="126.46" rx="4.07" ry="0.82" transform="rotate(256.7 172.19 126.46)" fill="#9ad89a" opacity="0.38"/><line x1="174.50" y1="136.20" x2="174.98" y2="130.89" stroke="#46a04a" stroke-width="2.21"/><ellipse cx="175.37" cy="126.49" rx="5.48" ry="2.46" transform="rotate(275.1 175.37 126.49)" fill="#46a04a"/><ellipse cx="175.37" cy="126.49" rx="3.96" ry="0.98" transform="rotate(275.1 175.37 126.49)" fill="#9ad89a" opacity="0.38"/><line x1="174.50" y1="136.20" x2="177.31" y2="132.66" stroke="#37903d" stroke-width="2.06"/><ellipse cx="179.64" cy="129.74" rx="4.65" ry="2.29" transform="rotate(308.5 179.64 129.74)" fill="#37903d"/><ellipse cx="179.64" cy="129.74" rx="3.36" ry="0.92" transform="rotate(308.5 179.64 129.74)" fill="#9ad89a" opacity="0.38"/><line x1="174.50" y1="136.20" x2="178.10" y2="134.72" stroke="#37903d" stroke-width="2.08"/><ellipse cx="181.08" cy="133.50" rx="4.00" ry="2.31" transform="rotate(337.7 181.08 133.50)" fill="#37903d"/><ellipse cx="181.08" cy="133.50" rx="2.89" ry="0.92" transform="rotate(337.7 181.08 133.50)" fill="#9ad89a" opacity="0.38"/><line x1="174.50" y1="136.20" x2="178.90" y2="139.21" stroke="#3f9944" stroke-width="2.22"/><ellipse cx="182.54" cy="141.70" rx="5.48" ry="2.47" transform="rotate(394.4 182.54 141.70)" fill="#3f9944"/><ellipse cx="182.54" cy="141.70" rx="3.96" ry="0.99" transform="rotate(394.4 182.54 141.70)" fill="#9ad89a" opacity="0.38"/><line x1="174.50" y1="136.20" x2="176.76" y2="141.46" stroke="#37903d" stroke-width="2.07"/><ellipse cx="178.64" cy="145.81" rx="5.89" ry="2.29" transform="rotate(426.7 178.64 145.81)" fill="#37903d"/><ellipse cx="178.64" cy="145.81" rx="4.25" ry="0.92" transform="rotate(426.7 178.64 145.81)" fill="#9ad89a" opacity="0.38"/><line x1="187.10" y1="152.60" x2="190.79" y2="149.13" stroke="#46a04a" stroke-width="2.16"/><ellipse cx="193.85" cy="146.26" rx="5.21" ry="2.40" transform="rotate(316.8 193.85 146.26)" fill="#46a04a"/><ellipse cx="193.85" cy="146.26" rx="3.76" ry="0.96" transform="rotate(316.8 193.85 146.26)" fill="#9ad89a" opacity="0.38"/><line x1="187.10" y1="152.60" x2="191.13" y2="152.59" stroke="#3a9440" stroke-width="1.92"/><ellipse cx="194.48" cy="152.58" rx="4.15" ry="2.13" transform="rotate(359.8 194.48 152.58)" fill="#3a9440"/><ellipse cx="194.48" cy="152.58" rx="3.00" ry="0.85" transform="rotate(359.8 194.48 152.58)" fill="#9ad89a" opacity="0.38"/><line x1="187.10" y1="152.60" x2="192.36" y2="154.28" stroke="#3a9440" stroke-width="1.99"/><ellipse cx="196.73" cy="155.67" rx="5.68" ry="2.21" transform="rotate(377.7 196.73 155.67)" fill="#3a9440"/><ellipse cx="196.73" cy="155.67" rx="4.10" ry="0.88" transform="rotate(377.7 196.73 155.67)" fill="#9ad89a" opacity="0.38"/><line x1="187.10" y1="152.60" x2="187.93" y2="156.51" stroke="#3f9944" stroke-width="2.21"/><ellipse cx="188.61" cy="159.75" rx="4.11" ry="2.45" transform="rotate(438.1 188.61 159.75)" fill="#3f9944"/><ellipse cx="188.61" cy="159.75" rx="2.97" ry="0.98" transform="rotate(438.1 188.61 159.75)" fill="#9ad89a" opacity="0.38"/><line x1="187.10" y1="152.60" x2="186.29" y2="157.90" stroke="#52aa55" stroke-width="2.09"/><ellipse cx="185.62" cy="162.29" rx="5.51" ry="2.32" transform="rotate(458.7 185.62 162.29)" fill="#52aa55"/><ellipse cx="185.62" cy="162.29" rx="3.98" ry="0.93" transform="rotate(458.7 185.62 162.29)" fill="#9ad89a" opacity="0.38"/><line x1="187.10" y1="152.60" x2="182.78" y2="154.71" stroke="#52aa55" stroke-width="1.63"/><ellipse cx="179.20" cy="156.45" rx="4.94" ry="1.81" transform="rotate(514.0 179.20 156.45)" fill="#52aa55"/><ellipse cx="179.20" cy="156.45" rx="3.57" ry="0.72" transform="rotate(514.0 179.20 156.45)" fill="#9ad89a" opacity="0.38"/><line x1="187.10" y1="152.60" x2="182.36" y2="152.13" stroke="#3f9944" stroke-width="2.04"/><ellipse cx="178.44" cy="151.74" rx="4.90" ry="2.27" transform="rotate(545.7 178.44 151.74)" fill="#3f9944"/><ellipse cx="178.44" cy="151.74" rx="3.54" ry="0.91" transform="rotate(545.7 178.44 151.74)" fill="#9ad89a" opacity="0.38"/><line x1="187.10" y1="152.60" x2="183.15" y2="151.16" stroke="#37903d" stroke-width="1.89"/><ellipse cx="179.87" cy="149.96" rx="4.33" ry="2.11" transform="rotate(560.1 179.87 149.96)" fill="#37903d"/><ellipse cx="179.87" cy="149.96" rx="3.13" ry="0.84" transform="rotate(560.1 179.87 149.96)" fill="#9ad89a" opacity="0.38"/><line x1="187.10" y1="152.60" x2="184.36" y2="148.32" stroke="#3f9944" stroke-width="2.17"/><ellipse cx="182.09" cy="144.78" rx="5.23" ry="2.42" transform="rotate(597.4 182.09 144.78)" fill="#3f9944"/><ellipse cx="182.09" cy="144.78" rx="3.77" ry="0.97" transform="rotate(597.4 182.09 144.78)" fill="#9ad89a" opacity="0.38"/><line x1="187.10" y1="152.60" x2="187.98" y2="146.93" stroke="#37903d" stroke-width="1.65"/><ellipse cx="188.71" cy="142.24" rx="5.90" ry="1.83" transform="rotate(638.8 188.71 142.24)" fill="#37903d"/><ellipse cx="188.71" cy="142.24" rx="4.26" ry="0.73" transform="rotate(638.8 188.71 142.24)" fill="#9ad89a" opacity="0.38"/></g>
<text x="23.00" y="94.00" font-size="6.0" text-anchor="middle" font-weight="normal" font-style="normal" fill="#231f20" >Before cold</text>
<text x="23.50" y="101.00" font-size="6.0" text-anchor="middle" font-weight="normal" font-style="normal" fill="#231f20" >treatment</text>
<text x="26.10" y="144.00" font-size="6.0" text-anchor="middle" font-weight="normal" font-style="normal" fill="#231f20" >After cold</text>
<text x="26.50" y="151.10" font-size="6.0" text-anchor="middle" font-weight="normal" font-style="normal" fill="#231f20" >treatment</text>
<text x="69.40" y="180.20" font-size="6.0" text-anchor="middle" font-weight="normal" font-style="normal" fill="#231f20" >Col</text>
<text x="126.10" y="177.30" font-size="6.0" text-anchor="middle" font-weight="normal" font-style="italic" fill="#231f20" >PbWRKY31</text>
<text x="126.50" y="183.70" font-size="6.0" text-anchor="middle" font-weight="normal" font-style="italic" fill="#231f20" >OE_4-8#</text>
<text x="181.70" y="177.30" font-size="6.0" text-anchor="middle" font-weight="normal" font-style="italic" fill="#231f20" >PbWRKY31</text>
<text x="181.70" y="183.70" font-size="6.0" text-anchor="middle" font-weight="normal" font-style="italic" fill="#231f20" >OE_39-2#</text>
<text x="216.00" y="73.20" font-size="8.8" text-anchor="start" font-weight="bold" font-style="normal" fill="#231f20" >D</text>
<rect x="228.3" y="72.0" width="123.0" height="98.6" fill="#d6d6d6"/>
<rect x="228.3" y="72.0" width="123.0" height="34.6" fill="#030303"/>
<rect x="228.3" y="109.0" width="123.0" height="30.4" fill="#030303"/>
<rect x="228.3" y="141.4" width="123.0" height="29.2" fill="#030303"/>
<path d="M237.40,92.72 Q237.89,94.91 238.80,97.10" fill="none" stroke="#86c46a" stroke-width="1.0"/><g transform="rotate(8.0 238.20 87.00)"><ellipse cx="238.20" cy="87.00" rx="2.30" ry="6.80" fill="#6ab456" stroke="#47883a" stroke-width="0.4"/><ellipse cx="237.85" cy="87.00" rx="1.03" ry="4.90" fill="#98d382" opacity="0.8"/></g>
<path d="M250.15,92.06 Q250.27,94.88 250.50,97.70" fill="none" stroke="#86c46a" stroke-width="1.0"/><g transform="rotate(-8.0 249.30 86.00)"><ellipse cx="249.30" cy="86.00" rx="3.00" ry="7.20" fill="#6ab456" stroke="#47883a" stroke-width="0.4"/><ellipse cx="248.85" cy="86.00" rx="1.35" ry="5.18" fill="#98d382" opacity="0.8"/></g>
<path d="M265.36,92.77 Q265.66,96.18 266.20,99.60" fill="none" stroke="#86c46a" stroke-width="1.0"/><g transform="rotate(-14.0 263.80 86.50)"><ellipse cx="263.80" cy="86.50" rx="2.80" ry="7.60" fill="#6ab456" stroke="#47883a" stroke-width="0.4"/><ellipse cx="263.38" cy="86.50" rx="1.26" ry="5.47" fill="#98d382" opacity="0.8"/></g>
<path d="M279.65,91.62 Q279.95,95.91 280.50,100.20" fill="none" stroke="#86c46a" stroke-width="1.0"/><g transform="rotate(3.0 280.00 85.00)"><ellipse cx="280.00" cy="85.00" rx="4.20" ry="7.80" fill="#6ab456" stroke="#47883a" stroke-width="0.4"/><ellipse cx="279.37" cy="85.00" rx="1.89" ry="5.62" fill="#98d382" opacity="0.8"/></g>
<path d="M294.21,92.81 Q294.21,97.75 294.20,102.70" fill="none" stroke="#86c46a" stroke-width="1.0"/><g transform="rotate(-3.0 293.80 85.00)"><ellipse cx="293.80" cy="85.00" rx="3.00" ry="9.20" fill="#6ab456" stroke="#47883a" stroke-width="0.4"/><ellipse cx="293.35" cy="85.00" rx="1.35" ry="6.62" fill="#98d382" opacity="0.8"/></g>
<path d="M307.43,93.20 Q307.45,97.95 307.50,102.70" fill="none" stroke="#86c46a" stroke-width="1.0"/><g transform="rotate(10.0 308.70 86.00)"><ellipse cx="308.70" cy="86.00" rx="3.60" ry="8.60" fill="#6ab456" stroke="#47883a" stroke-width="0.4"/><ellipse cx="308.16" cy="86.00" rx="1.62" ry="6.19" fill="#98d382" opacity="0.8"/></g>
<path d="M323.48,92.79 Q323.49,97.75 323.50,102.70" fill="none" stroke="#86c46a" stroke-width="1.0"/><g transform="rotate(-5.0 322.80 85.00)"><ellipse cx="322.80" cy="85.00" rx="3.60" ry="9.20" fill="#6ab456" stroke="#47883a" stroke-width="0.4"/><ellipse cx="322.26" cy="85.00" rx="1.62" ry="6.62" fill="#98d382" opacity="0.8"/></g>
<path d="M340.30,92.61 Q340.37,97.20 340.50,101.80" fill="none" stroke="#86c46a" stroke-width="1.0"/><g transform="rotate(-6.0 339.50 85.00)"><ellipse cx="339.50" cy="85.00" rx="3.80" ry="9.00" fill="#6ab456" stroke="#47883a" stroke-width="0.4"/><ellipse cx="338.93" cy="85.00" rx="1.71" ry="6.48" fill="#98d382" opacity="0.8"/></g>
<path d="M249.16,127.58 Q249.45,129.54 250.00,131.50" fill="none" stroke="#86c46a" stroke-width="1.0"/><g transform="rotate(5.0 249.60 122.50)"><ellipse cx="249.60" cy="122.50" rx="2.60" ry="6.00" fill="#6ab456" stroke="#47883a" stroke-width="0.4"/><ellipse cx="249.21" cy="122.50" rx="1.17" ry="4.32" fill="#98d382" opacity="0.8"/></g>
<path d="M263.18,123.35 Q263.29,125.83 263.50,128.30" fill="none" stroke="#86c46a" stroke-width="1.0"/><g transform="rotate(-10.0 262.50 119.50)"><ellipse cx="262.50" cy="119.50" rx="1.60" ry="4.60" fill="#6ab456" stroke="#47883a" stroke-width="0.4"/><ellipse cx="262.26" cy="119.50" rx="0.72" ry="3.31" fill="#98d382" opacity="0.8"/></g>
<path d="M275.25,123.02 Q274.39,128.31 272.80,133.60" fill="none" stroke="#86c46a" stroke-width="1.0"/><g transform="rotate(20.0 275.80 121.50)"><ellipse cx="275.80" cy="121.50" rx="4.30" ry="1.90" fill="#6ab456" stroke="#47883a" stroke-width="0.4"/><ellipse cx="275.16" cy="121.50" rx="1.94" ry="1.37" fill="#98d382" opacity="0.8"/></g>
<path d="M286.40,125.94 Q286.44,129.77 286.50,133.60" fill="none" stroke="#86c46a" stroke-width="1.0"/><g transform="rotate(0.0 286.40 120.50)"><ellipse cx="286.40" cy="120.50" rx="3.20" ry="6.40" fill="#6ab456" stroke="#47883a" stroke-width="0.4"/><ellipse cx="285.92" cy="120.50" rx="1.44" ry="4.61" fill="#98d382" opacity="0.8"/></g>
<path d="M297.42,128.41 Q297.27,133.36 297.00,138.30" fill="none" stroke="#86c46a" stroke-width="1.0"/><g transform="rotate(15.0 299.00 122.50)"><ellipse cx="299.00" cy="122.50" rx="3.20" ry="7.20" fill="#6ab456" stroke="#47883a" stroke-width="0.4"/><ellipse cx="298.52" cy="122.50" rx="1.44" ry="5.18" fill="#98d382" opacity="0.8"/></g>
<path d="M313.70,128.63 Q313.28,132.72 312.50,136.80" fill="none" stroke="#86c46a" stroke-width="1.0"/><g transform="rotate(0.0 313.70 122.00)"><ellipse cx="313.70" cy="122.00" rx="2.60" ry="7.80" fill="#6ab456" stroke="#47883a" stroke-width="0.4"/><ellipse cx="313.31" cy="122.00" rx="1.17" ry="5.62" fill="#98d382" opacity="0.8"/></g>
<path d="M326.02,127.93 Q326.36,130.76 327.00,133.60" fill="none" stroke="#86c46a" stroke-width="1.0"/><g transform="rotate(-5.0 325.50 122.00)"><ellipse cx="325.50" cy="122.00" rx="3.40" ry="7.00" fill="#6ab456" stroke="#47883a" stroke-width="0.4"/><ellipse cx="324.99" cy="122.00" rx="1.53" ry="5.04" fill="#98d382" opacity="0.8"/></g>
<path d="M338.60,128.95 Q339.44,132.88 341.00,136.80" fill="none" stroke="#86c46a" stroke-width="1.0"/><g transform="rotate(10.0 340.00 121.00)"><ellipse cx="340.00" cy="121.00" rx="5.00" ry="9.50" fill="#6ab456" stroke="#47883a" stroke-width="0.4"/><ellipse cx="339.25" cy="121.00" rx="2.25" ry="6.84" fill="#98d382" opacity="0.8"/></g>
<path d="M245.75,161.49 Q245.84,163.25 246.00,165.00" fill="none" stroke="#86c46a" stroke-width="1.0"/><g transform="rotate(-20.0 244.30 157.50)"><ellipse cx="244.30" cy="157.50" rx="2.20" ry="5.00" fill="#6ab456" stroke="#47883a" stroke-width="0.4"/><ellipse cx="243.97" cy="157.50" rx="0.99" ry="3.60" fill="#98d382" opacity="0.8"/></g>
<path d="M257.50,161.92 Q257.68,163.81 258.00,165.70" fill="none" stroke="#86c46a" stroke-width="1.0"/><g transform="rotate(0.0 257.50 157.50)"><ellipse cx="257.50" cy="157.50" rx="1.50" ry="5.20" fill="#6ab456" stroke="#47883a" stroke-width="0.4"/><ellipse cx="257.27" cy="157.50" rx="0.68" ry="3.74" fill="#98d382" opacity="0.8"/></g>
<path d="M267.12,163.93 Q267.25,166.36 267.50,168.80" fill="none" stroke="#86c46a" stroke-width="1.0"/><g transform="rotate(-15.0 265.80 159.00)"><ellipse cx="265.80" cy="159.00" rx="2.00" ry="6.00" fill="#6ab456" stroke="#47883a" stroke-width="0.4"/><ellipse cx="265.50" cy="159.00" rx="0.90" ry="4.32" fill="#98d382" opacity="0.8"/></g>
<path d="M276.00,160.85 Q275.65,164.23 275.00,167.60" fill="none" stroke="#86c46a" stroke-width="1.0"/><g transform="rotate(25.0 277.80 157.00)"><ellipse cx="277.80" cy="157.00" rx="2.00" ry="5.00" fill="#6ab456" stroke="#47883a" stroke-width="0.4"/><ellipse cx="277.50" cy="157.00" rx="0.90" ry="3.60" fill="#98d382" opacity="0.8"/></g>
<path d="M286.80,163.53 Q286.69,165.56 286.50,167.60" fill="none" stroke="#86c46a" stroke-width="1.0"/><g transform="rotate(0.0 286.80 158.00)"><ellipse cx="286.80" cy="158.00" rx="2.30" ry="6.50" fill="#6ab456" stroke="#47883a" stroke-width="0.4"/><ellipse cx="286.45" cy="158.00" rx="1.03" ry="4.68" fill="#98d382" opacity="0.8"/></g>
<path d="M300.80,163.38 Q300.87,166.09 301.00,168.80" fill="none" stroke="#86c46a" stroke-width="1.0"/><g transform="rotate(0.0 300.80 157.00)"><ellipse cx="300.80" cy="157.00" rx="2.30" ry="7.50" fill="#6ab456" stroke="#47883a" stroke-width="0.4"/><ellipse cx="300.45" cy="157.00" rx="1.03" ry="5.40" fill="#98d382" opacity="0.8"/></g>
<path d="M310.39,163.28 Q311.31,166.04 313.00,168.80" fill="none" stroke="#86c46a" stroke-width="1.0"/><g transform="rotate(10.0 311.50 157.00)"><ellipse cx="311.50" cy="157.00" rx="3.50" ry="7.50" fill="#6ab456" stroke="#47883a" stroke-width="0.4"/><ellipse cx="310.98" cy="157.00" rx="1.57" ry="5.40" fill="#98d382" opacity="0.8"/></g>
<path d="M322.60,157.33 Q321.52,161.52 319.50,165.70" fill="none" stroke="#86c46a" stroke-width="1.0"/><g transform="rotate(20.0 324.00 153.50)"><ellipse cx="324.00" cy="153.50" rx="2.00" ry="4.80" fill="#6ab456" stroke="#47883a" stroke-width="0.4"/><ellipse cx="323.70" cy="153.50" rx="0.90" ry="3.46" fill="#98d382" opacity="0.8"/></g>
<path d="M339.00,161.07 Q339.18,163.84 339.50,166.60" fill="none" stroke="#86c46a" stroke-width="1.0"/><g transform="rotate(0.0 339.00 153.00)"><ellipse cx="339.00" cy="153.00" rx="4.20" ry="9.50" fill="#6ab456" stroke="#47883a" stroke-width="0.4"/><ellipse cx="338.37" cy="153.00" rx="1.89" ry="6.84" fill="#98d382" opacity="0.8"/></g>
<text x="354.50" y="88.60" font-size="6.1" text-anchor="start" font-weight="normal" font-style="normal" fill="#231f20" >Col</text>
<text x="354.30" y="119.60" font-size="6.1" text-anchor="start" font-weight="normal" font-style="italic" fill="#231f20" >PbWRKY31</text>
<text x="357.60" y="126.90" font-size="6.1" text-anchor="start" font-weight="normal" font-style="italic" fill="#231f20" >OE_4-8#</text>
<text x="354.30" y="153.60" font-size="6.1" text-anchor="start" font-weight="normal" font-style="italic" fill="#231f20" >PbWRKY31</text>
<text x="356.00" y="160.90" font-size="6.1" text-anchor="start" font-weight="normal" font-style="italic" fill="#231f20" >OE_39-2#</text>
<text x="294.20" y="179.10" font-size="6.0" text-anchor="middle" font-weight="normal" font-style="normal" fill="#231f20" >After cold treatment</text>
<text x="13.30" y="200.10" font-size="8.8" text-anchor="start" font-weight="bold" font-style="normal" fill="#231f20" >E</text>
<text x="90.70" y="201.40" font-size="6.8" text-anchor="middle" font-weight="bold" fill="#231f20" class="tt"><tspan font-style="italic">AtCBF1</tspan> (AT4G25490)</text>
<line x1="41.00" y1="203.50" x2="44.40" y2="203.50" stroke="#231f20" stroke-width="0.9"/>
<text x="40.20" y="205.20" font-size="6.7" text-anchor="end" font-weight="normal" font-style="normal" fill="#231f20" >2500</text>
<line x1="41.00" y1="215.50" x2="44.40" y2="215.50" stroke="#231f20" stroke-width="0.9"/>
<text x="40.20" y="217.38" font-size="6.7" text-anchor="end" font-weight="normal" font-style="normal" fill="#231f20" >2000</text>
<line x1="41.00" y1="227.50" x2="44.40" y2="227.50" stroke="#231f20" stroke-width="0.9"/>
<text x="40.20" y="229.56" font-size="6.7" text-anchor="end" font-weight="normal" font-style="normal" fill="#231f20" >1500</text>
<line x1="41.00" y1="239.50" x2="44.40" y2="239.50" stroke="#231f20" stroke-width="0.9"/>
<text x="40.20" y="241.74" font-size="6.7" text-anchor="end" font-weight="normal" font-style="normal" fill="#231f20" >1000</text>
<line x1="41.00" y1="252.50" x2="44.40" y2="252.50" stroke="#231f20" stroke-width="0.9"/>
<text x="40.20" y="253.92" font-size="6.7" text-anchor="end" font-weight="normal" font-style="normal" fill="#231f20" >500</text>
<line x1="41.00" y1="264.50" x2="44.40" y2="264.50" stroke="#231f20" stroke-width="0.9"/>
<text x="40.20" y="266.10" font-size="6.7" text-anchor="end" font-weight="normal" font-style="normal" fill="#231f20" >0</text>
<line x1="74.00" y1="260.90" x2="74.00" y2="260.30" stroke="#231f20" stroke-width="0.75"/>
<line x1="72.60" y1="260.30" x2="75.40" y2="260.30" stroke="#231f20" stroke-width="0.85"/>
<rect x="71.10" y="260.90" width="5.80" height="3.30" fill="#1a8fd6" stroke="#231f20" stroke-width="0.55"/>
<line x1="82.75" y1="256.20" x2="82.75" y2="255.20" stroke="#231f20" stroke-width="0.75"/>
<line x1="81.35" y1="255.20" x2="84.15" y2="255.20" stroke="#231f20" stroke-width="0.85"/>
<rect x="79.80" y="256.20" width="5.90" height="8.00" fill="#f38183" stroke="#231f20" stroke-width="0.55"/>
<text x="82.80" y="254.99" font-size="4.4" text-anchor="middle" fill="#3a3a3a" class="st">*</text>
<text x="82.80" y="252.49" font-size="4.4" text-anchor="middle" fill="#3a3a3a" class="st">*</text>
<text x="82.80" y="249.99" font-size="4.4" text-anchor="middle" fill="#3a3a3a" class="st">*</text>
<line x1="97.05" y1="242.90" x2="97.05" y2="241.60" stroke="#231f20" stroke-width="0.75"/>
<line x1="95.65" y1="241.60" x2="98.45" y2="241.60" stroke="#231f20" stroke-width="0.85"/>
<rect x="94.10" y="242.90" width="5.90" height="21.30" fill="#1a8fd6" stroke="#231f20" stroke-width="0.55"/>
<line x1="105.85" y1="215.20" x2="105.85" y2="212.60" stroke="#231f20" stroke-width="0.75"/>
<line x1="104.45" y1="212.60" x2="107.25" y2="212.60" stroke="#231f20" stroke-width="0.85"/>
<rect x="102.90" y="215.20" width="5.90" height="49.00" fill="#f38183" stroke="#231f20" stroke-width="0.55"/>
<text x="105.90" y="212.99" font-size="4.4" text-anchor="middle" fill="#3a3a3a" class="st">*</text>
<text x="105.90" y="210.49" font-size="4.4" text-anchor="middle" fill="#3a3a3a" class="st">*</text>
<text x="105.90" y="207.99" font-size="4.4" text-anchor="middle" fill="#3a3a3a" class="st">*</text>
<line x1="120.20" y1="253.40" x2="120.20" y2="253.00" stroke="#231f20" stroke-width="0.75"/>
<line x1="118.80" y1="253.00" x2="121.60" y2="253.00" stroke="#231f20" stroke-width="0.85"/>
<rect x="117.30" y="253.40" width="5.80" height="10.80" fill="#1a8fd6" stroke="#231f20" stroke-width="0.55"/>
<line x1="129.00" y1="244.80" x2="129.00" y2="243.60" stroke="#231f20" stroke-width="0.75"/>
<line x1="127.60" y1="243.60" x2="130.40" y2="243.60" stroke="#231f20" stroke-width="0.85"/>
<rect x="126.10" y="244.80" width="5.80" height="19.40" fill="#f38183" stroke="#231f20" stroke-width="0.55"/>
<text x="129.05" y="243.99" font-size="4.4" text-anchor="middle" fill="#3a3a3a" class="st">*</text>
<text x="129.05" y="241.49" font-size="4.4" text-anchor="middle" fill="#3a3a3a" class="st">*</text>
<text x="129.05" y="238.99" font-size="4.4" text-anchor="middle" fill="#3a3a3a" class="st">*</text>
<rect x="44.40" y="203.30" width="90.40" height="60.90" fill="none" stroke="#231f20" stroke-width="0.8"/>
<text x="0" y="0" font-size="6.1" text-anchor="middle" fill="#231f20" transform="translate(18.80 233.70) rotate(-90)">Relative expression</text>
<rect x="47.60" y="208.70" width="5" height="3.2" fill="#1a8fd6" stroke="#231f20" stroke-width="0.5"/>
<rect x="47.60" y="217.80" width="5" height="3.2" fill="#f38183" stroke="#231f20" stroke-width="0.5"/>
<text x="54.20" y="212.30" font-size="5.8" text-anchor="start" font-weight="normal" font-style="normal" fill="#231f20" class="lg">Col</text>
<text x="54.20" y="221.30" font-size="5.8" text-anchor="start" font-weight="normal" font-style="italic" fill="#231f20" class="lg">PbWRKY31</text>
<text x="55.20" y="227.10" font-size="5.8" text-anchor="start" font-weight="normal" font-style="italic" fill="#231f20" class="lg">OE_39-2#</text>
<text x="140.00" y="199.60" font-size="8.8" text-anchor="start" font-weight="bold" font-style="normal" fill="#231f20" >F</text>
<text x="212.30" y="200.70" font-size="6.8" text-anchor="middle" font-weight="bold" fill="#231f20" class="tt"><tspan font-style="italic">AtCBF2</tspan> (AT4G25470)</text>
<line x1="163.40" y1="203.50" x2="166.80" y2="203.50" stroke="#231f20" stroke-width="0.9"/>
<text x="162.60" y="205.20" font-size="6.7" text-anchor="end" font-weight="normal" font-style="normal" fill="#231f20" >1500</text>
<line x1="163.40" y1="223.50" x2="166.80" y2="223.50" stroke="#231f20" stroke-width="0.9"/>
<text x="162.60" y="225.43" font-size="6.7" text-anchor="end" font-weight="normal" font-style="normal" fill="#231f20" >1000</text>
<line x1="163.40" y1="243.50" x2="166.80" y2="243.50" stroke="#231f20" stroke-width="0.9"/>
<text x="162.60" y="245.67" font-size="6.7" text-anchor="end" font-weight="normal" font-style="normal" fill="#231f20" >500</text>
<line x1="163.40" y1="264.50" x2="166.80" y2="264.50" stroke="#231f20" stroke-width="0.9"/>
<text x="162.60" y="265.90" font-size="6.7" text-anchor="end" font-weight="normal" font-style="normal" fill="#231f20" >0</text>
<line x1="196.85" y1="260.50" x2="196.85" y2="260.00" stroke="#231f20" stroke-width="0.75"/>
<line x1="195.45" y1="260.00" x2="198.25" y2="260.00" stroke="#231f20" stroke-width="0.85"/>
<rect x="194.00" y="260.50" width="5.70" height="3.50" fill="#1a8fd6" stroke="#231f20" stroke-width="0.55"/>
<line x1="205.70" y1="256.20" x2="205.70" y2="255.30" stroke="#231f20" stroke-width="0.75"/>
<line x1="204.30" y1="255.30" x2="207.10" y2="255.30" stroke="#231f20" stroke-width="0.85"/>
<rect x="202.90" y="256.20" width="5.60" height="7.80" fill="#f38183" stroke="#231f20" stroke-width="0.55"/>
<text x="205.75" y="254.99" font-size="4.4" text-anchor="middle" fill="#3a3a3a" class="st">*</text>
<text x="205.75" y="252.49" font-size="4.4" text-anchor="middle" fill="#3a3a3a" class="st">*</text>
<text x="205.75" y="249.99" font-size="4.4" text-anchor="middle" fill="#3a3a3a" class="st">*</text>
<line x1="220.15" y1="244.00" x2="220.15" y2="243.20" stroke="#231f20" stroke-width="0.75"/>
<line x1="218.75" y1="243.20" x2="221.55" y2="243.20" stroke="#231f20" stroke-width="0.85"/>
<rect x="217.30" y="244.00" width="5.70" height="20.00" fill="#1a8fd6" stroke="#231f20" stroke-width="0.55"/>
<line x1="229.00" y1="219.60" x2="229.00" y2="218.60" stroke="#231f20" stroke-width="0.75"/>
<line x1="227.60" y1="218.60" x2="230.40" y2="218.60" stroke="#231f20" stroke-width="0.85"/>
<rect x="226.10" y="219.60" width="5.80" height="44.40" fill="#f38183" stroke="#231f20" stroke-width="0.55"/>
<text x="229.05" y="218.49" font-size="4.4" text-anchor="middle" fill="#3a3a3a" class="st">*</text>
<text x="229.05" y="215.99" font-size="4.4" text-anchor="middle" fill="#3a3a3a" class="st">*</text>
<text x="229.05" y="213.49" font-size="4.4" text-anchor="middle" fill="#3a3a3a" class="st">*</text>
<text x="229.05" y="210.99" font-size="4.4" text-anchor="middle" fill="#3a3a3a" class="st">*</text>
<line x1="243.95" y1="258.70" x2="243.95" y2="258.00" stroke="#231f20" stroke-width="0.75"/>
<line x1="242.55" y1="258.00" x2="245.35" y2="258.00" stroke="#231f20" stroke-width="0.85"/>
<rect x="241.10" y="258.70" width="5.70" height="5.30" fill="#1a8fd6" stroke="#231f20" stroke-width="0.55"/>
<line x1="252.45" y1="253.20" x2="252.45" y2="252.40" stroke="#231f20" stroke-width="0.75"/>
<line x1="251.05" y1="252.40" x2="253.85" y2="252.40" stroke="#231f20" stroke-width="0.85"/>
<rect x="249.60" y="253.20" width="5.70" height="10.80" fill="#f38183" stroke="#231f20" stroke-width="0.55"/>
<text x="252.50" y="251.99" font-size="4.4" text-anchor="middle" fill="#3a3a3a" class="st">*</text>
<text x="252.50" y="249.49" font-size="4.4" text-anchor="middle" fill="#3a3a3a" class="st">*</text>
<text x="252.50" y="246.99" font-size="4.4" text-anchor="middle" fill="#3a3a3a" class="st">*</text>
<rect x="166.80" y="203.30" width="91.60" height="60.70" fill="none" stroke="#231f20" stroke-width="0.8"/>
<text x="263.20" y="199.60" font-size="8.8" text-anchor="start" font-weight="bold" font-style="normal" fill="#231f20" >G</text>
<text x="340.20" y="200.70" font-size="6.8" text-anchor="middle" font-weight="bold" fill="#231f20" class="tt"><tspan font-style="italic">AtCBF3</tspan> (AT4G25480)</text>
<line x1="289.60" y1="203.50" x2="293.00" y2="203.50" stroke="#231f20" stroke-width="0.9"/>
<text x="288.80" y="205.20" font-size="6.7" text-anchor="end" font-weight="normal" font-style="normal" fill="#231f20" >1×10⁴</text>
<line x1="289.60" y1="215.50" x2="293.00" y2="215.50" stroke="#231f20" stroke-width="0.9"/>
<text x="288.80" y="217.26" font-size="6.7" text-anchor="end" font-weight="normal" font-style="normal" fill="#231f20" >8000</text>
<line x1="289.60" y1="227.50" x2="293.00" y2="227.50" stroke="#231f20" stroke-width="0.9"/>
<text x="288.80" y="229.32" font-size="6.7" text-anchor="end" font-weight="normal" font-style="normal" fill="#231f20" >6000</text>
<line x1="289.60" y1="239.50" x2="293.00" y2="239.50" stroke="#231f20" stroke-width="0.9"/>
<text x="288.80" y="241.38" font-size="6.7" text-anchor="end" font-weight="normal" font-style="normal" fill="#231f20" >4000</text>
<line x1="289.60" y1="251.50" x2="293.00" y2="251.50" stroke="#231f20" stroke-width="0.9"/>
<text x="288.80" y="253.44" font-size="6.7" text-anchor="end" font-weight="normal" font-style="normal" fill="#231f20" >2000</text>
<line x1="289.60" y1="263.50" x2="293.00" y2="263.50" stroke="#231f20" stroke-width="0.9"/>
<text x="288.80" y="265.50" font-size="6.7" text-anchor="end" font-weight="normal" font-style="normal" fill="#231f20" >0</text>
<line x1="322.40" y1="262.50" x2="322.40" y2="262.00" stroke="#231f20" stroke-width="0.75"/>
<line x1="321.00" y1="262.00" x2="323.80" y2="262.00" stroke="#231f20" stroke-width="0.85"/>
<rect x="319.60" y="262.50" width="5.60" height="1.10" fill="#1a8fd6" stroke="#231f20" stroke-width="0.55"/>
<line x1="331.40" y1="259.50" x2="331.40" y2="258.30" stroke="#231f20" stroke-width="0.75"/>
<line x1="330.00" y1="258.30" x2="332.80" y2="258.30" stroke="#231f20" stroke-width="0.85"/>
<rect x="328.50" y="259.50" width="5.80" height="4.10" fill="#f38183" stroke="#231f20" stroke-width="0.55"/>
<text x="331.45" y="258.49" font-size="4.4" text-anchor="middle" fill="#3a3a3a" class="st">*</text>
<text x="331.45" y="255.99" font-size="4.4" text-anchor="middle" fill="#3a3a3a" class="st">*</text>
<line x1="346.05" y1="248.60" x2="346.05" y2="246.60" stroke="#231f20" stroke-width="0.75"/>
<line x1="344.65" y1="246.60" x2="347.45" y2="246.60" stroke="#231f20" stroke-width="0.85"/>
<rect x="343.10" y="248.60" width="5.90" height="15.00" fill="#1a8fd6" stroke="#231f20" stroke-width="0.55"/>
<line x1="355.05" y1="221.30" x2="355.05" y2="215.30" stroke="#231f20" stroke-width="0.75"/>
<line x1="353.65" y1="215.30" x2="356.45" y2="215.30" stroke="#231f20" stroke-width="0.85"/>
<rect x="352.10" y="221.30" width="5.90" height="42.30" fill="#f38183" stroke="#231f20" stroke-width="0.55"/>
<text x="355.10" y="214.79" font-size="4.4" text-anchor="middle" fill="#3a3a3a" class="st">*</text>
<text x="355.10" y="212.29" font-size="4.4" text-anchor="middle" fill="#3a3a3a" class="st">*</text>
<line x1="369.90" y1="255.70" x2="369.90" y2="254.60" stroke="#231f20" stroke-width="0.75"/>
<line x1="368.50" y1="254.60" x2="371.30" y2="254.60" stroke="#231f20" stroke-width="0.85"/>
<rect x="367.00" y="255.70" width="5.80" height="7.90" fill="#1a8fd6" stroke="#231f20" stroke-width="0.55"/>
<line x1="378.75" y1="246.60" x2="378.75" y2="245.00" stroke="#231f20" stroke-width="0.75"/>
<line x1="377.35" y1="245.00" x2="380.15" y2="245.00" stroke="#231f20" stroke-width="0.85"/>
<rect x="375.90" y="246.60" width="5.70" height="17.00" fill="#f38183" stroke="#231f20" stroke-width="0.55"/>
<text x="378.80" y="244.99" font-size="4.4" text-anchor="middle" fill="#3a3a3a" class="st">*</text>
<text x="378.80" y="242.49" font-size="4.4" text-anchor="middle" fill="#3a3a3a" class="st">*</text>
<rect x="293.00" y="203.30" width="91.70" height="60.30" fill="none" stroke="#231f20" stroke-width="0.8"/>
<text x="13.40" y="282.60" font-size="8.8" text-anchor="start" font-weight="bold" font-style="normal" fill="#231f20" >H</text>
<text x="91.20" y="280.20" font-size="6.8" text-anchor="middle" font-weight="bold" fill="#231f20" class="tt"><tspan font-style="italic">AtCAMTA3</tspan> (AT2G22300)</text>
<line x1="41.20" y1="282.50" x2="44.60" y2="282.50" stroke="#231f20" stroke-width="0.9"/>
<text x="40.40" y="284.60" font-size="6.7" text-anchor="end" font-weight="normal" font-style="normal" fill="#231f20" >4</text>
<line x1="41.20" y1="298.50" x2="44.60" y2="298.50" stroke="#231f20" stroke-width="0.9"/>
<text x="40.40" y="300.00" font-size="6.7" text-anchor="end" font-weight="normal" font-style="normal" fill="#231f20" >3</text>
<line x1="41.20" y1="313.50" x2="44.60" y2="313.50" stroke="#231f20" stroke-width="0.9"/>
<text x="40.40" y="315.40" font-size="6.7" text-anchor="end" font-weight="normal" font-style="normal" fill="#231f20" >2</text>
<line x1="41.20" y1="328.50" x2="44.60" y2="328.50" stroke="#231f20" stroke-width="0.9"/>
<text x="40.40" y="330.80" font-size="6.7" text-anchor="end" font-weight="normal" font-style="normal" fill="#231f20" >1</text>
<line x1="41.20" y1="344.50" x2="44.60" y2="344.50" stroke="#231f20" stroke-width="0.9"/>
<text x="40.40" y="346.20" font-size="6.7" text-anchor="end" font-weight="normal" font-style="normal" fill="#231f20" >0</text>
<rect x="47.70" y="328.90" width="5.60" height="15.40" fill="#1a8fd6" stroke="#231f20" stroke-width="0.55"/>
<line x1="59.30" y1="327.60" x2="59.30" y2="326.60" stroke="#231f20" stroke-width="0.75"/>
<line x1="57.90" y1="326.60" x2="60.70" y2="326.60" stroke="#231f20" stroke-width="0.85"/>
<rect x="56.40" y="327.60" width="5.80" height="16.70" fill="#f38183" stroke="#231f20" stroke-width="0.55"/>
<text x="59.35" y="326.99" font-size="4.4" text-anchor="middle" fill="#3a3a3a" class="st">*</text>
<line x1="73.70" y1="307.90" x2="73.70" y2="306.80" stroke="#231f20" stroke-width="0.75"/>
<line x1="72.30" y1="306.80" x2="75.10" y2="306.80" stroke="#231f20" stroke-width="0.85"/>
<rect x="70.80" y="307.90" width="5.80" height="36.40" fill="#1a8fd6" stroke="#231f20" stroke-width="0.55"/>
<line x1="82.55" y1="314.20" x2="82.55" y2="313.20" stroke="#231f20" stroke-width="0.75"/>
<line x1="81.15" y1="313.20" x2="83.95" y2="313.20" stroke="#231f20" stroke-width="0.85"/>
<rect x="79.60" y="314.20" width="5.90" height="30.10" fill="#f38183" stroke="#231f20" stroke-width="0.55"/>
<text x="82.60" y="313.59" font-size="4.4" text-anchor="middle" fill="#3a3a3a" class="st">*</text>
<text x="82.60" y="311.09" font-size="4.4" text-anchor="middle" fill="#3a3a3a" class="st">*</text>
<line x1="97.20" y1="309.90" x2="97.20" y2="308.80" stroke="#231f20" stroke-width="0.75"/>
<line x1="95.80" y1="308.80" x2="98.60" y2="308.80" stroke="#231f20" stroke-width="0.85"/>
<rect x="94.30" y="309.90" width="5.80" height="34.40" fill="#1a8fd6" stroke="#231f20" stroke-width="0.55"/>
<line x1="105.95" y1="299.50" x2="105.95" y2="298.20" stroke="#231f20" stroke-width="0.75"/>
<line x1="104.55" y1="298.20" x2="107.35" y2="298.20" stroke="#231f20" stroke-width="0.85"/>
<rect x="103.10" y="299.50" width="5.70" height="44.80" fill="#f38183" stroke="#231f20" stroke-width="0.55"/>
<text x="106.00" y="298.39" font-size="4.4" text-anchor="middle" fill="#3a3a3a" class="st">*</text>
<text x="106.00" y="295.89" font-size="4.4" text-anchor="middle" fill="#3a3a3a" class="st">*</text>
<text x="106.00" y="293.39" font-size="4.4" text-anchor="middle" fill="#3a3a3a" class="st">*</text>
<line x1="119.90" y1="311.70" x2="119.90" y2="311.20" stroke="#231f20" stroke-width="0.75"/>
<line x1="118.50" y1="311.20" x2="121.30" y2="311.20" stroke="#231f20" stroke-width="0.85"/>
<rect x="117.00" y="311.70" width="5.80" height="32.60" fill="#1a8fd6" stroke="#231f20" stroke-width="0.55"/>
<line x1="128.70" y1="309.60" x2="128.70" y2="308.80" stroke="#231f20" stroke-width="0.75"/>
<line x1="127.30" y1="308.80" x2="130.10" y2="308.80" stroke="#231f20" stroke-width="0.85"/>
<rect x="125.90" y="309.60" width="5.60" height="34.70" fill="#f38183" stroke="#231f20" stroke-width="0.55"/>
<text x="128.75" y="309.19" font-size="4.4" text-anchor="middle" fill="#3a3a3a" class="st">*</text>
<rect x="44.60" y="282.70" width="90.10" height="61.60" fill="none" stroke="#231f20" stroke-width="0.8"/>
<line x1="54.95" y1="344.30" x2="54.95" y2="346.10" stroke="#231f20" stroke-width="0.6"/>
<text x="54.95" y="353.90" font-size="6.7" text-anchor="middle" font-weight="normal" font-style="normal" fill="#231f20" >0</text>
<line x1="78.15" y1="344.30" x2="78.15" y2="346.10" stroke="#231f20" stroke-width="0.6"/>
<text x="78.15" y="353.90" font-size="6.7" text-anchor="middle" font-weight="normal" font-style="normal" fill="#231f20" >1</text>
<line x1="101.55" y1="344.30" x2="101.55" y2="346.10" stroke="#231f20" stroke-width="0.6"/>
<text x="101.55" y="353.90" font-size="6.7" text-anchor="middle" font-weight="normal" font-style="normal" fill="#231f20" >2</text>
<line x1="124.25" y1="344.30" x2="124.25" y2="346.10" stroke="#231f20" stroke-width="0.6"/>
<text x="124.25" y="353.90" font-size="6.7" text-anchor="middle" font-weight="normal" font-style="normal" fill="#231f20" >4</text>
<text x="89.65" y="361.50" font-size="6.4" text-anchor="middle" font-weight="normal" font-style="normal" fill="#231f20" >Hours after cold treatment</text>
<text x="0" y="0" font-size="6.1" text-anchor="middle" fill="#231f20" transform="translate(23.60 314.40) rotate(-90)">Relative expression</text>
<text x="145.00" y="282.60" font-size="8.8" text-anchor="start" font-weight="bold" font-style="normal" fill="#231f20" >I</text>
<text x="214.00" y="280.20" font-size="6.8" text-anchor="middle" font-weight="bold" fill="#231f20" class="tt"><tspan font-style="italic">AtMYB15</tspan> (AT3G23250)</text>
<line x1="165.00" y1="282.50" x2="168.40" y2="282.50" stroke="#231f20" stroke-width="0.9"/>
<text x="164.20" y="284.50" font-size="6.7" text-anchor="end" font-weight="normal" font-style="normal" fill="#231f20" >30</text>
<line x1="165.00" y1="303.50" x2="168.40" y2="303.50" stroke="#231f20" stroke-width="0.9"/>
<text x="164.20" y="305.07" font-size="6.7" text-anchor="end" font-weight="normal" font-style="normal" fill="#231f20" >20</text>
<line x1="165.00" y1="323.50" x2="168.40" y2="323.50" stroke="#231f20" stroke-width="0.9"/>
<text x="164.20" y="325.63" font-size="6.7" text-anchor="end" font-weight="normal" font-style="normal" fill="#231f20" >10</text>
<line x1="165.00" y1="344.50" x2="168.40" y2="344.50" stroke="#231f20" stroke-width="0.9"/>
<text x="164.20" y="346.20" font-size="6.7" text-anchor="end" font-weight="normal" font-style="normal" fill="#231f20" >0</text>
<rect x="171.30" y="342.50" width="5.60" height="1.80" fill="#1a8fd6" stroke="#231f20" stroke-width="0.55"/>
<line x1="183.00" y1="322.50" x2="183.00" y2="320.00" stroke="#231f20" stroke-width="0.75"/>
<line x1="181.60" y1="320.00" x2="184.40" y2="320.00" stroke="#231f20" stroke-width="0.85"/>
<rect x="180.20" y="322.50" width="5.60" height="21.80" fill="#f38183" stroke="#231f20" stroke-width="0.55"/>
<text x="183.05" y="319.49" font-size="4.4" text-anchor="middle" fill="#3a3a3a" class="st">*</text>
<text x="183.05" y="316.99" font-size="4.4" text-anchor="middle" fill="#3a3a3a" class="st">*</text>
<text x="183.05" y="314.49" font-size="4.4" text-anchor="middle" fill="#3a3a3a" class="st">*</text>
<line x1="197.45" y1="307.90" x2="197.45" y2="302.30" stroke="#231f20" stroke-width="0.75"/>
<line x1="196.05" y1="302.30" x2="198.85" y2="302.30" stroke="#231f20" stroke-width="0.85"/>
<rect x="194.50" y="307.90" width="5.90" height="36.40" fill="#1a8fd6" stroke="#231f20" stroke-width="0.55"/>
<line x1="206.30" y1="341.20" x2="206.30" y2="340.60" stroke="#231f20" stroke-width="0.75"/>
<line x1="204.90" y1="340.60" x2="207.70" y2="340.60" stroke="#231f20" stroke-width="0.85"/>
<rect x="203.40" y="341.20" width="5.80" height="3.10" fill="#f38183" stroke="#231f20" stroke-width="0.55"/>
<text x="206.35" y="340.99" font-size="4.4" text-anchor="middle" fill="#3a3a3a" class="st">*</text>
<text x="206.35" y="338.49" font-size="4.4" text-anchor="middle" fill="#3a3a3a" class="st">*</text>
<text x="206.35" y="335.99" font-size="4.4" text-anchor="middle" fill="#3a3a3a" class="st">*</text>
<line x1="220.55" y1="325.60" x2="220.55" y2="323.80" stroke="#231f20" stroke-width="0.75"/>
<line x1="219.15" y1="323.80" x2="221.95" y2="323.80" stroke="#231f20" stroke-width="0.85"/>
<rect x="217.60" y="325.60" width="5.90" height="18.70" fill="#1a8fd6" stroke="#231f20" stroke-width="0.55"/>
<line x1="229.20" y1="340.20" x2="229.20" y2="339.60" stroke="#231f20" stroke-width="0.75"/>
<line x1="227.80" y1="339.60" x2="230.60" y2="339.60" stroke="#231f20" stroke-width="0.85"/>
<rect x="226.40" y="340.20" width="5.60" height="4.10" fill="#f38183" stroke="#231f20" stroke-width="0.55"/>
<text x="229.25" y="338.59" font-size="4.4" text-anchor="middle" fill="#3a3a3a" class="st">*</text>
<text x="229.25" y="336.09" font-size="4.4" text-anchor="middle" fill="#3a3a3a" class="st">*</text>
<text x="229.25" y="333.59" font-size="4.4" text-anchor="middle" fill="#3a3a3a" class="st">*</text>
<line x1="244.20" y1="293.50" x2="244.20" y2="290.20" stroke="#231f20" stroke-width="0.75"/>
<line x1="242.80" y1="290.20" x2="245.60" y2="290.20" stroke="#231f20" stroke-width="0.85"/>
<rect x="241.30" y="293.50" width="5.80" height="50.80" fill="#1a8fd6" stroke="#231f20" stroke-width="0.55"/>
<line x1="252.50" y1="342.50" x2="252.50" y2="342.00" stroke="#231f20" stroke-width="0.75"/>
<line x1="251.10" y1="342.00" x2="253.90" y2="342.00" stroke="#231f20" stroke-width="0.85"/>
<rect x="249.60" y="342.50" width="5.80" height="1.80" fill="#f38183" stroke="#231f20" stroke-width="0.55"/>
<text x="252.55" y="341.49" font-size="4.4" text-anchor="middle" fill="#3a3a3a" class="st">*</text>
<text x="252.55" y="338.99" font-size="4.4" text-anchor="middle" fill="#3a3a3a" class="st">*</text>
<text x="252.55" y="336.49" font-size="4.4" text-anchor="middle" fill="#3a3a3a" class="st">*</text>
<rect x="168.40" y="282.60" width="90.50" height="61.70" fill="none" stroke="#231f20" stroke-width="0.8"/>
<line x1="178.55" y1="344.30" x2="178.55" y2="346.10" stroke="#231f20" stroke-width="0.6"/>
<text x="178.55" y="353.90" font-size="6.7" text-anchor="middle" font-weight="normal" font-style="normal" fill="#231f20" >0</text>
<line x1="201.85" y1="344.30" x2="201.85" y2="346.10" stroke="#231f20" stroke-width="0.6"/>
<text x="201.85" y="353.90" font-size="6.7" text-anchor="middle" font-weight="normal" font-style="normal" fill="#231f20" >1</text>
<line x1="224.80" y1="344.30" x2="224.80" y2="346.10" stroke="#231f20" stroke-width="0.6"/>
<text x="224.80" y="353.90" font-size="6.7" text-anchor="middle" font-weight="normal" font-style="normal" fill="#231f20" >2</text>
<line x1="248.35" y1="344.30" x2="248.35" y2="346.10" stroke="#231f20" stroke-width="0.6"/>
<text x="248.35" y="353.90" font-size="6.7" text-anchor="middle" font-weight="normal" font-style="normal" fill="#231f20" >4</text>
<text x="213.65" y="361.50" font-size="6.4" text-anchor="middle" font-weight="normal" font-style="normal" fill="#231f20" >Hours after cold treatment</text>
<text x="267.80" y="282.90" font-size="8.8" text-anchor="start" font-weight="bold" font-style="normal" fill="#231f20" >J</text>
<text x="340.20" y="280.20" font-size="6.8" text-anchor="middle" font-weight="bold" fill="#231f20" class="tt"><tspan font-style="italic">AtTCF1</tspan> (At3G55580)</text>
<line x1="290.00" y1="282.50" x2="293.40" y2="282.50" stroke="#231f20" stroke-width="0.9"/>
<text x="289.20" y="284.20" font-size="6.7" text-anchor="end" font-weight="normal" font-style="normal" fill="#231f20" >100</text>
<line x1="290.00" y1="294.50" x2="293.40" y2="294.50" stroke="#231f20" stroke-width="0.9"/>
<text x="289.20" y="295.90" font-size="6.7" text-anchor="end" font-weight="normal" font-style="normal" fill="#231f20" >80</text>
<line x1="290.00" y1="305.50" x2="293.40" y2="305.50" stroke="#231f20" stroke-width="0.9"/>
<text x="289.20" y="307.20" font-size="6.7" text-anchor="end" font-weight="normal" font-style="normal" fill="#231f20" >60</text>
<line x1="290.00" y1="316.50" x2="293.40" y2="316.50" stroke="#231f20" stroke-width="0.9"/>
<text x="289.20" y="317.90" font-size="6.7" text-anchor="end" font-weight="normal" font-style="normal" fill="#231f20" >20</text>
<line x1="290.00" y1="330.50" x2="293.40" y2="330.50" stroke="#231f20" stroke-width="0.9"/>
<text x="289.20" y="332.10" font-size="6.7" text-anchor="end" font-weight="normal" font-style="normal" fill="#231f20" >10</text>
<line x1="290.00" y1="344.50" x2="293.40" y2="344.50" stroke="#231f20" stroke-width="0.9"/>
<text x="289.20" y="346.20" font-size="6.7" text-anchor="end" font-weight="normal" font-style="normal" fill="#231f20" >0</text>
<rect x="296.30" y="343.40" width="6.10" height="0.90" fill="#1a8fd6" stroke="#231f20" stroke-width="0.55"/>
<rect x="305.20" y="343.10" width="6.10" height="1.20" fill="#f38183" stroke="#231f20" stroke-width="0.55"/>
<rect x="319.80" y="343.40" width="6.00" height="0.90" fill="#1a8fd6" stroke="#231f20" stroke-width="0.55"/>
<line x1="331.60" y1="342.70" x2="331.60" y2="342.20" stroke="#231f20" stroke-width="0.75"/>
<line x1="330.20" y1="342.20" x2="333.00" y2="342.20" stroke="#231f20" stroke-width="0.85"/>
<rect x="328.60" y="342.70" width="6.00" height="1.60" fill="#f38183" stroke="#231f20" stroke-width="0.55"/>
<text x="331.65" y="342.19" font-size="4.4" text-anchor="middle" fill="#3a3a3a" class="st">*</text>
<text x="331.65" y="339.69" font-size="4.4" text-anchor="middle" fill="#3a3a3a" class="st">*</text>
<line x1="346.15" y1="335.20" x2="346.15" y2="334.80" stroke="#231f20" stroke-width="0.75"/>
<line x1="344.75" y1="334.80" x2="347.55" y2="334.80" stroke="#231f20" stroke-width="0.85"/>
<rect x="343.10" y="335.20" width="6.10" height="9.10" fill="#1a8fd6" stroke="#231f20" stroke-width="0.55"/>
<line x1="355.10" y1="327.30" x2="355.10" y2="326.30" stroke="#231f20" stroke-width="0.75"/>
<line x1="353.70" y1="326.30" x2="356.50" y2="326.30" stroke="#231f20" stroke-width="0.85"/>
<rect x="352.10" y="327.30" width="6.00" height="17.00" fill="#f38183" stroke="#231f20" stroke-width="0.55"/>
<text x="355.15" y="326.29" font-size="4.4" text-anchor="middle" fill="#3a3a3a" class="st">*</text>
<text x="355.15" y="323.79" font-size="4.4" text-anchor="middle" fill="#3a3a3a" class="st">*</text>
<text x="355.15" y="321.29" font-size="4.4" text-anchor="middle" fill="#3a3a3a" class="st">*</text>
<line x1="370.00" y1="305.50" x2="370.00" y2="302.70" stroke="#231f20" stroke-width="0.75"/>
<line x1="368.60" y1="302.70" x2="371.40" y2="302.70" stroke="#231f20" stroke-width="0.85"/>
<rect x="367.10" y="305.50" width="5.80" height="38.80" fill="#1a8fd6" stroke="#231f20" stroke-width="0.55"/>
<line x1="378.95" y1="293.40" x2="378.95" y2="290.80" stroke="#231f20" stroke-width="0.75"/>
<line x1="377.55" y1="290.80" x2="380.35" y2="290.80" stroke="#231f20" stroke-width="0.85"/>
<rect x="376.00" y="293.40" width="5.90" height="50.90" fill="#f38183" stroke="#231f20" stroke-width="0.55"/>
<text x="379.00" y="290.99" font-size="4.4" text-anchor="middle" fill="#3a3a3a" class="st">*</text>
<text x="379.00" y="288.49" font-size="4.4" text-anchor="middle" fill="#3a3a3a" class="st">*</text>
<rect x="294.00" y="311.50" width="90.20" height="4.50" fill="#ffffff"/>
<rect x="291.90" y="311.10" width="3" height="5.30" fill="#ffffff"/>
<line x1="291.20" y1="311.50" x2="295.60" y2="311.50" stroke="#231f20" stroke-width="0.7"/>
<line x1="291.20" y1="316.00" x2="295.60" y2="316.00" stroke="#231f20" stroke-width="0.7"/>
<path d="M293.40,311.50 L293.40,282.30 L384.80,282.30 L384.80,344.30 L293.40,344.30 L293.40,316.00" fill="none" stroke="#231f20" stroke-width="0.8"/>
<line x1="303.80" y1="344.30" x2="303.80" y2="346.10" stroke="#231f20" stroke-width="0.6"/>
<text x="303.80" y="353.90" font-size="6.7" text-anchor="middle" font-weight="normal" font-style="normal" fill="#231f20" >0</text>
<line x1="327.20" y1="344.30" x2="327.20" y2="346.10" stroke="#231f20" stroke-width="0.6"/>
<text x="327.20" y="353.90" font-size="6.7" text-anchor="middle" font-weight="normal" font-style="normal" fill="#231f20" >1</text>
<line x1="350.60" y1="344.30" x2="350.60" y2="346.10" stroke="#231f20" stroke-width="0.6"/>
<text x="350.60" y="353.90" font-size="6.7" text-anchor="middle" font-weight="normal" font-style="normal" fill="#231f20" >2</text>
<line x1="374.50" y1="344.30" x2="374.50" y2="346.10" stroke="#231f20" stroke-width="0.6"/>
<text x="374.50" y="353.90" font-size="6.7" text-anchor="middle" font-weight="normal" font-style="normal" fill="#231f20" >4</text>
<text x="339.10" y="361.50" font-size="6.4" text-anchor="middle" font-weight="normal" font-style="normal" fill="#231f20" >Hours after cold treatment</text>
<text x="13.30" y="382.20" font-size="8.8" text-anchor="start" font-weight="bold" font-style="normal" fill="#231f20" >K</text>
<text x="86.70" y="380.20" font-size="6.8" text-anchor="middle" font-weight="bold" fill="#231f20" class="tt"><tspan font-style="italic">AtICS1</tspan> (AT1G74710)</text>
<line x1="40.90" y1="382.50" x2="44.30" y2="382.50" stroke="#231f20" stroke-width="0.9"/>
<text x="40.10" y="384.40" font-size="6.7" text-anchor="end" font-weight="normal" font-style="normal" fill="#231f20" >2.5</text>
<line x1="40.90" y1="394.50" x2="44.30" y2="394.50" stroke="#231f20" stroke-width="0.9"/>
<text x="40.10" y="396.40" font-size="6.7" text-anchor="end" font-weight="normal" font-style="normal" fill="#231f20" >2.0</text>
<line x1="40.90" y1="406.50" x2="44.30" y2="406.50" stroke="#231f20" stroke-width="0.9"/>
<text x="40.10" y="408.40" font-size="6.7" text-anchor="end" font-weight="normal" font-style="normal" fill="#231f20" >1.5</text>
<line x1="40.90" y1="418.50" x2="44.30" y2="418.50" stroke="#231f20" stroke-width="0.9"/>
<text x="40.10" y="420.40" font-size="6.7" text-anchor="end" font-weight="normal" font-style="normal" fill="#231f20" >1.0</text>
<line x1="40.90" y1="430.50" x2="44.30" y2="430.50" stroke="#231f20" stroke-width="0.9"/>
<text x="40.10" y="432.40" font-size="6.7" text-anchor="end" font-weight="normal" font-style="normal" fill="#231f20" >0.5</text>
<line x1="40.90" y1="442.50" x2="44.30" y2="442.50" stroke="#231f20" stroke-width="0.9"/>
<text x="40.10" y="444.40" font-size="6.7" text-anchor="end" font-weight="normal" font-style="normal" fill="#231f20" >0.0</text>
<rect x="46.30" y="419.00" width="5.00" height="23.50" fill="#1a8fd6" stroke="#231f20" stroke-width="0.55"/>
<line x1="55.90" y1="400.30" x2="55.90" y2="397.80" stroke="#231f20" stroke-width="0.75"/>
<line x1="54.50" y1="397.80" x2="57.30" y2="397.80" stroke="#231f20" stroke-width="0.85"/>
<rect x="53.40" y="400.30" width="5.00" height="42.20" fill="#f38183" stroke="#231f20" stroke-width="0.55"/>
<text x="55.95" y="397.19" font-size="4.4" text-anchor="middle" fill="#3a3a3a" class="st">*</text>
<text x="55.95" y="394.69" font-size="4.4" text-anchor="middle" fill="#3a3a3a" class="st">*</text>
<text x="55.95" y="392.19" font-size="4.4" text-anchor="middle" fill="#3a3a3a" class="st">*</text>
<line x1="67.20" y1="416.00" x2="67.20" y2="414.00" stroke="#231f20" stroke-width="0.75"/>
<line x1="65.80" y1="414.00" x2="68.60" y2="414.00" stroke="#231f20" stroke-width="0.85"/>
<rect x="64.70" y="416.00" width="5.00" height="26.50" fill="#1a8fd6" stroke="#231f20" stroke-width="0.55"/>
<line x1="74.60" y1="415.20" x2="74.60" y2="412.50" stroke="#231f20" stroke-width="0.75"/>
<line x1="73.20" y1="412.50" x2="76.00" y2="412.50" stroke="#231f20" stroke-width="0.85"/>
<rect x="72.10" y="415.20" width="5.00" height="27.30" fill="#f38183" stroke="#231f20" stroke-width="0.55"/>
<line x1="85.40" y1="423.60" x2="85.40" y2="423.00" stroke="#231f20" stroke-width="0.75"/>
<line x1="84.00" y1="423.00" x2="86.80" y2="423.00" stroke="#231f20" stroke-width="0.85"/>
<rect x="82.90" y="423.60" width="5.00" height="18.90" fill="#1a8fd6" stroke="#231f20" stroke-width="0.55"/>
<line x1="92.50" y1="417.20" x2="92.50" y2="415.50" stroke="#231f20" stroke-width="0.75"/>
<line x1="91.10" y1="415.50" x2="93.90" y2="415.50" stroke="#231f20" stroke-width="0.85"/>
<rect x="90.00" y="417.20" width="5.00" height="25.30" fill="#f38183" stroke="#231f20" stroke-width="0.55"/>
<text x="92.55" y="415.39" font-size="4.4" text-anchor="middle" fill="#3a3a3a" class="st">*</text>
<text x="92.55" y="412.89" font-size="4.4" text-anchor="middle" fill="#3a3a3a" class="st">*</text>
<line x1="103.80" y1="430.60" x2="103.80" y2="430.00" stroke="#231f20" stroke-width="0.75"/>
<line x1="102.40" y1="430.00" x2="105.20" y2="430.00" stroke="#231f20" stroke-width="0.85"/>
<rect x="101.30" y="430.60" width="5.00" height="11.90" fill="#1a8fd6" stroke="#231f20" stroke-width="0.55"/>
<line x1="110.70" y1="423.60" x2="110.70" y2="422.00" stroke="#231f20" stroke-width="0.75"/>
<line x1="109.30" y1="422.00" x2="112.10" y2="422.00" stroke="#231f20" stroke-width="0.85"/>
<rect x="108.20" y="423.60" width="5.00" height="18.90" fill="#f38183" stroke="#231f20" stroke-width="0.55"/>
<text x="110.75" y="421.99" font-size="4.4" text-anchor="middle" fill="#3a3a3a" class="st">*</text>
<text x="110.75" y="419.49" font-size="4.4" text-anchor="middle" fill="#3a3a3a" class="st">*</text>
<text x="110.75" y="416.99" font-size="4.4" text-anchor="middle" fill="#3a3a3a" class="st">*</text>
<line x1="122.00" y1="434.90" x2="122.00" y2="434.40" stroke="#231f20" stroke-width="0.75"/>
<line x1="120.60" y1="434.40" x2="123.40" y2="434.40" stroke="#231f20" stroke-width="0.85"/>
<rect x="119.50" y="434.90" width="5.00" height="7.60" fill="#1a8fd6" stroke="#231f20" stroke-width="0.55"/>
<line x1="129.00" y1="427.10" x2="129.00" y2="426.00" stroke="#231f20" stroke-width="0.75"/>
<line x1="127.60" y1="426.00" x2="130.40" y2="426.00" stroke="#231f20" stroke-width="0.85"/>
<rect x="126.50" y="427.10" width="5.00" height="15.40" fill="#f38183" stroke="#231f20" stroke-width="0.55"/>
<text x="129.05" y="425.99" font-size="4.4" text-anchor="middle" fill="#3a3a3a" class="st">*</text>
<text x="129.05" y="423.49" font-size="4.4" text-anchor="middle" fill="#3a3a3a" class="st">*</text>
<text x="129.05" y="420.99" font-size="4.4" text-anchor="middle" fill="#3a3a3a" class="st">*</text>
<rect x="44.30" y="382.50" width="89.60" height="60.00" fill="none" stroke="#231f20" stroke-width="0.8"/>
<text x="0" y="0" font-size="6.1" text-anchor="middle" fill="#231f20" transform="translate(23.30 414.50) rotate(-90)">Relative expression</text>
<rect x="84.20" y="388.20" width="5" height="3.2" fill="#1a8fd6" stroke="#231f20" stroke-width="0.5"/>
<rect x="84.20" y="397.30" width="5" height="3.2" fill="#f38183" stroke="#231f20" stroke-width="0.5"/>
<text x="90.80" y="391.80" font-size="5.8" text-anchor="start" font-weight="normal" font-style="normal" fill="#231f20" class="lg">Col</text>
<text x="90.80" y="400.80" font-size="5.8" text-anchor="start" font-weight="normal" font-style="italic" fill="#231f20" class="lg">PbWRKY31</text>
<text x="91.80" y="406.60" font-size="5.8" text-anchor="start" font-weight="normal" font-style="italic" fill="#231f20" class="lg">OE_39-2#</text>
<text x="144.70" y="381.90" font-size="8.8" text-anchor="start" font-weight="bold" font-style="normal" fill="#231f20" >L</text>
<text x="212.40" y="380.20" font-size="6.8" text-anchor="middle" font-weight="bold" fill="#231f20" class="tt"><tspan font-style="italic">AtCBP60g</tspan> (AT5G26920)</text>
<line x1="163.80" y1="382.50" x2="167.20" y2="382.50" stroke="#231f20" stroke-width="0.9"/>
<text x="163.00" y="384.30" font-size="6.7" text-anchor="end" font-weight="normal" font-style="normal" fill="#231f20" >20</text>
<line x1="163.80" y1="397.50" x2="167.20" y2="397.50" stroke="#231f20" stroke-width="0.9"/>
<text x="163.00" y="399.30" font-size="6.7" text-anchor="end" font-weight="normal" font-style="normal" fill="#231f20" >15</text>
<line x1="163.80" y1="412.50" x2="167.20" y2="412.50" stroke="#231f20" stroke-width="0.9"/>
<text x="163.00" y="414.30" font-size="6.7" text-anchor="end" font-weight="normal" font-style="normal" fill="#231f20" >10</text>
<line x1="163.80" y1="427.50" x2="167.20" y2="427.50" stroke="#231f20" stroke-width="0.9"/>
<text x="163.00" y="429.30" font-size="6.7" text-anchor="end" font-weight="normal" font-style="normal" fill="#231f20" >5</text>
<line x1="163.80" y1="442.50" x2="167.20" y2="442.50" stroke="#231f20" stroke-width="0.9"/>
<text x="163.00" y="444.30" font-size="6.7" text-anchor="end" font-weight="normal" font-style="normal" fill="#231f20" >0</text>
<rect x="169.90" y="439.50" width="5.00" height="2.90" fill="#1a8fd6" stroke="#231f20" stroke-width="0.55"/>
<line x1="179.50" y1="423.60" x2="179.50" y2="422.80" stroke="#231f20" stroke-width="0.75"/>
<line x1="178.10" y1="422.80" x2="180.90" y2="422.80" stroke="#231f20" stroke-width="0.85"/>
<rect x="177.00" y="423.60" width="5.00" height="18.80" fill="#f38183" stroke="#231f20" stroke-width="0.55"/>
<text x="179.55" y="422.19" font-size="4.4" text-anchor="middle" fill="#3a3a3a" class="st">*</text>
<text x="179.55" y="419.69" font-size="4.4" text-anchor="middle" fill="#3a3a3a" class="st">*</text>
<text x="179.55" y="417.19" font-size="4.4" text-anchor="middle" fill="#3a3a3a" class="st">*</text>
<line x1="190.90" y1="435.70" x2="190.90" y2="435.20" stroke="#231f20" stroke-width="0.75"/>
<line x1="189.50" y1="435.20" x2="192.30" y2="435.20" stroke="#231f20" stroke-width="0.85"/>
<rect x="188.40" y="435.70" width="5.00" height="6.70" fill="#1a8fd6" stroke="#231f20" stroke-width="0.55"/>
<line x1="197.80" y1="433.70" x2="197.80" y2="433.00" stroke="#231f20" stroke-width="0.75"/>
<line x1="196.40" y1="433.00" x2="199.20" y2="433.00" stroke="#231f20" stroke-width="0.85"/>
<rect x="195.30" y="433.70" width="5.00" height="8.70" fill="#f38183" stroke="#231f20" stroke-width="0.55"/>
<text x="197.85" y="432.39" font-size="4.4" text-anchor="middle" fill="#3a3a3a" class="st">*</text>
<text x="197.85" y="429.89" font-size="4.4" text-anchor="middle" fill="#3a3a3a" class="st">*</text>
<line x1="209.20" y1="426.10" x2="209.20" y2="425.40" stroke="#231f20" stroke-width="0.75"/>
<line x1="207.80" y1="425.40" x2="210.60" y2="425.40" stroke="#231f20" stroke-width="0.85"/>
<rect x="206.70" y="426.10" width="5.00" height="16.30" fill="#1a8fd6" stroke="#231f20" stroke-width="0.55"/>
<line x1="216.50" y1="427.30" x2="216.50" y2="426.80" stroke="#231f20" stroke-width="0.75"/>
<line x1="215.10" y1="426.80" x2="217.90" y2="426.80" stroke="#231f20" stroke-width="0.85"/>
<rect x="214.00" y="427.30" width="5.00" height="15.10" fill="#f38183" stroke="#231f20" stroke-width="0.55"/>
<line x1="228.10" y1="424.80" x2="228.10" y2="424.00" stroke="#231f20" stroke-width="0.75"/>
<line x1="226.70" y1="424.00" x2="229.50" y2="424.00" stroke="#231f20" stroke-width="0.85"/>
<rect x="225.60" y="424.80" width="5.00" height="17.60" fill="#1a8fd6" stroke="#231f20" stroke-width="0.55"/>
<line x1="234.90" y1="407.90" x2="234.90" y2="406.60" stroke="#231f20" stroke-width="0.75"/>
<line x1="233.50" y1="406.60" x2="236.30" y2="406.60" stroke="#231f20" stroke-width="0.85"/>
<rect x="232.40" y="407.90" width="5.00" height="34.50" fill="#f38183" stroke="#231f20" stroke-width="0.55"/>
<text x="234.95" y="406.19" font-size="4.4" text-anchor="middle" fill="#3a3a3a" class="st">*</text>
<text x="234.95" y="403.69" font-size="4.4" text-anchor="middle" fill="#3a3a3a" class="st">*</text>
<text x="234.95" y="401.19" font-size="4.4" text-anchor="middle" fill="#3a3a3a" class="st">*</text>
<line x1="246.40" y1="433.20" x2="246.40" y2="432.80" stroke="#231f20" stroke-width="0.75"/>
<line x1="245.00" y1="432.80" x2="247.80" y2="432.80" stroke="#231f20" stroke-width="0.85"/>
<rect x="243.90" y="433.20" width="5.00" height="9.20" fill="#1a8fd6" stroke="#231f20" stroke-width="0.55"/>
<line x1="253.40" y1="393.30" x2="253.40" y2="390.20" stroke="#231f20" stroke-width="0.75"/>
<line x1="252.00" y1="390.20" x2="254.80" y2="390.20" stroke="#231f20" stroke-width="0.85"/>
<rect x="250.90" y="393.30" width="5.00" height="49.10" fill="#f38183" stroke="#231f20" stroke-width="0.55"/>
<text x="253.45" y="390.19" font-size="4.4" text-anchor="middle" fill="#3a3a3a" class="st">*</text>
<text x="253.45" y="387.69" font-size="4.4" text-anchor="middle" fill="#3a3a3a" class="st">*</text>
<text x="253.45" y="385.19" font-size="4.4" text-anchor="middle" fill="#3a3a3a" class="st">*</text>
<rect x="167.20" y="382.40" width="91.20" height="60.00" fill="none" stroke="#231f20" stroke-width="0.8"/>
<text x="268.00" y="382.20" font-size="8.8" text-anchor="start" font-weight="bold" font-style="normal" fill="#231f20" >M</text>
<text x="338.00" y="380.20" font-size="6.8" text-anchor="middle" font-weight="bold" fill="#231f20" class="tt"><tspan font-style="italic">AtSARD1</tspan> (AT1G73805)</text>
<line x1="289.80" y1="382.50" x2="293.20" y2="382.50" stroke="#231f20" stroke-width="0.9"/>
<text x="289.00" y="384.30" font-size="6.7" text-anchor="end" font-weight="normal" font-style="normal" fill="#231f20" >15</text>
<line x1="289.80" y1="402.50" x2="293.20" y2="402.50" stroke="#231f20" stroke-width="0.9"/>
<text x="289.00" y="404.43" font-size="6.7" text-anchor="end" font-weight="normal" font-style="normal" fill="#231f20" >10</text>
<line x1="289.80" y1="422.50" x2="293.20" y2="422.50" stroke="#231f20" stroke-width="0.9"/>
<text x="289.00" y="424.57" font-size="6.7" text-anchor="end" font-weight="normal" font-style="normal" fill="#231f20" >5</text>
<line x1="289.80" y1="442.50" x2="293.20" y2="442.50" stroke="#231f20" stroke-width="0.9"/>
<text x="289.00" y="444.70" font-size="6.7" text-anchor="end" font-weight="normal" font-style="normal" fill="#231f20" >0</text>
<rect x="296.00" y="439.50" width="4.80" height="3.30" fill="#1a8fd6" stroke="#231f20" stroke-width="0.55"/>
<line x1="305.40" y1="434.20" x2="305.40" y2="433.40" stroke="#231f20" stroke-width="0.75"/>
<line x1="304.00" y1="433.40" x2="306.80" y2="433.40" stroke="#231f20" stroke-width="0.85"/>
<rect x="303.00" y="434.20" width="4.80" height="8.60" fill="#f38183" stroke="#231f20" stroke-width="0.55"/>
<text x="305.45" y="432.99" font-size="4.4" text-anchor="middle" fill="#3a3a3a" class="st">*</text>
<text x="305.45" y="430.49" font-size="4.4" text-anchor="middle" fill="#3a3a3a" class="st">*</text>
<text x="305.45" y="427.99" font-size="4.4" text-anchor="middle" fill="#3a3a3a" class="st">*</text>
<line x1="316.90" y1="424.80" x2="316.90" y2="424.00" stroke="#231f20" stroke-width="0.75"/>
<line x1="315.50" y1="424.00" x2="318.30" y2="424.00" stroke="#231f20" stroke-width="0.85"/>
<rect x="314.40" y="424.80" width="5.00" height="18.00" fill="#1a8fd6" stroke="#231f20" stroke-width="0.55"/>
<line x1="323.90" y1="425.30" x2="323.90" y2="424.80" stroke="#231f20" stroke-width="0.75"/>
<line x1="322.50" y1="424.80" x2="325.30" y2="424.80" stroke="#231f20" stroke-width="0.85"/>
<rect x="321.50" y="425.30" width="4.80" height="17.50" fill="#f38183" stroke="#231f20" stroke-width="0.55"/>
<line x1="335.25" y1="421.80" x2="335.25" y2="419.80" stroke="#231f20" stroke-width="0.75"/>
<line x1="333.85" y1="419.80" x2="336.65" y2="419.80" stroke="#231f20" stroke-width="0.85"/>
<rect x="332.80" y="421.80" width="4.90" height="21.00" fill="#1a8fd6" stroke="#231f20" stroke-width="0.55"/>
<line x1="342.45" y1="426.10" x2="342.45" y2="424.80" stroke="#231f20" stroke-width="0.75"/>
<line x1="341.05" y1="424.80" x2="343.85" y2="424.80" stroke="#231f20" stroke-width="0.85"/>
<rect x="340.00" y="426.10" width="4.90" height="16.70" fill="#f38183" stroke="#231f20" stroke-width="0.55"/>
<text x="342.50" y="425.39" font-size="4.4" text-anchor="middle" fill="#3a3a3a" class="st">*</text>
<line x1="354.15" y1="422.30" x2="354.15" y2="421.40" stroke="#231f20" stroke-width="0.75"/>
<line x1="352.75" y1="421.40" x2="355.55" y2="421.40" stroke="#231f20" stroke-width="0.85"/>
<rect x="351.70" y="422.30" width="4.90" height="20.50" fill="#1a8fd6" stroke="#231f20" stroke-width="0.55"/>
<line x1="361.25" y1="413.00" x2="361.25" y2="411.80" stroke="#231f20" stroke-width="0.75"/>
<line x1="359.85" y1="411.80" x2="362.65" y2="411.80" stroke="#231f20" stroke-width="0.85"/>
<rect x="358.80" y="413.00" width="4.90" height="29.80" fill="#f38183" stroke="#231f20" stroke-width="0.55"/>
<text x="361.30" y="411.79" font-size="4.4" text-anchor="middle" fill="#3a3a3a" class="st">*</text>
<text x="361.30" y="409.29" font-size="4.4" text-anchor="middle" fill="#3a3a3a" class="st">*</text>
<text x="361.30" y="406.79" font-size="4.4" text-anchor="middle" fill="#3a3a3a" class="st">*</text>
<line x1="372.75" y1="423.00" x2="372.75" y2="420.00" stroke="#231f20" stroke-width="0.75"/>
<line x1="371.35" y1="420.00" x2="374.15" y2="420.00" stroke="#231f20" stroke-width="0.85"/>
<rect x="370.30" y="423.00" width="4.90" height="19.80" fill="#1a8fd6" stroke="#231f20" stroke-width="0.55"/>
<line x1="379.55" y1="405.40" x2="379.55" y2="404.20" stroke="#231f20" stroke-width="0.75"/>
<line x1="378.15" y1="404.20" x2="380.95" y2="404.20" stroke="#231f20" stroke-width="0.85"/>
<rect x="377.10" y="405.40" width="4.90" height="37.40" fill="#f38183" stroke="#231f20" stroke-width="0.55"/>
<text x="379.60" y="403.99" font-size="4.4" text-anchor="middle" fill="#3a3a3a" class="st">*</text>
<text x="379.60" y="401.49" font-size="4.4" text-anchor="middle" fill="#3a3a3a" class="st">*</text>
<text x="379.60" y="398.99" font-size="4.4" text-anchor="middle" fill="#3a3a3a" class="st">*</text>
<rect x="293.20" y="382.40" width="91.00" height="60.40" fill="none" stroke="#231f20" stroke-width="0.8"/>
<text x="13.60" y="461.40" font-size="8.8" text-anchor="start" font-weight="bold" font-style="normal" fill="#231f20" >N</text>
<text x="90.50" y="459.70" font-size="6.8" text-anchor="middle" font-weight="bold" fill="#231f20" class="tt"><tspan font-style="italic">AtNPR1</tspan> (AT1G64280)</text>
<line x1="40.80" y1="461.50" x2="44.20" y2="461.50" stroke="#231f20" stroke-width="0.9"/>
<text x="40.00" y="463.50" font-size="6.7" text-anchor="end" font-weight="normal" font-style="normal" fill="#231f20" >6</text>
<line x1="40.80" y1="482.50" x2="44.20" y2="482.50" stroke="#231f20" stroke-width="0.9"/>
<text x="40.00" y="484.07" font-size="6.7" text-anchor="end" font-weight="normal" font-style="normal" fill="#231f20" >4</text>
<line x1="40.80" y1="502.50" x2="44.20" y2="502.50" stroke="#231f20" stroke-width="0.9"/>
<text x="40.00" y="504.63" font-size="6.7" text-anchor="end" font-weight="normal" font-style="normal" fill="#231f20" >2</text>
<line x1="40.80" y1="523.50" x2="44.20" y2="523.50" stroke="#231f20" stroke-width="0.9"/>
<text x="40.00" y="525.20" font-size="6.7" text-anchor="end" font-weight="normal" font-style="normal" fill="#231f20" >0</text>
<line x1="48.80" y1="513.10" x2="48.80" y2="512.80" stroke="#231f20" stroke-width="0.75"/>
<line x1="47.40" y1="512.80" x2="50.20" y2="512.80" stroke="#231f20" stroke-width="0.85"/>
<rect x="46.30" y="513.10" width="5.00" height="10.20" fill="#1a8fd6" stroke="#231f20" stroke-width="0.55"/>
<line x1="55.90" y1="513.60" x2="55.90" y2="513.20" stroke="#231f20" stroke-width="0.75"/>
<line x1="54.50" y1="513.20" x2="57.30" y2="513.20" stroke="#231f20" stroke-width="0.85"/>
<rect x="53.40" y="513.60" width="5.00" height="9.70" fill="#f38183" stroke="#231f20" stroke-width="0.55"/>
<line x1="67.50" y1="501.30" x2="67.50" y2="500.80" stroke="#231f20" stroke-width="0.75"/>
<line x1="66.10" y1="500.80" x2="68.90" y2="500.80" stroke="#231f20" stroke-width="0.85"/>
<rect x="65.00" y="501.30" width="5.00" height="22.00" fill="#1a8fd6" stroke="#231f20" stroke-width="0.55"/>
<line x1="74.60" y1="496.00" x2="74.60" y2="494.50" stroke="#231f20" stroke-width="0.75"/>
<line x1="73.20" y1="494.50" x2="76.00" y2="494.50" stroke="#231f20" stroke-width="0.85"/>
<rect x="72.10" y="496.00" width="5.00" height="27.30" fill="#f38183" stroke="#231f20" stroke-width="0.55"/>
<text x="74.65" y="493.59" font-size="4.4" text-anchor="middle" fill="#3a3a3a" class="st">*</text>
<text x="74.65" y="491.09" font-size="4.4" text-anchor="middle" fill="#3a3a3a" class="st">*</text>
<line x1="85.70" y1="501.80" x2="85.70" y2="501.20" stroke="#231f20" stroke-width="0.75"/>
<line x1="84.30" y1="501.20" x2="87.10" y2="501.20" stroke="#231f20" stroke-width="0.85"/>
<rect x="83.20" y="501.80" width="5.00" height="21.50" fill="#1a8fd6" stroke="#231f20" stroke-width="0.55"/>
<line x1="92.80" y1="500.00" x2="92.80" y2="499.20" stroke="#231f20" stroke-width="0.75"/>
<line x1="91.40" y1="499.20" x2="94.20" y2="499.20" stroke="#231f20" stroke-width="0.85"/>
<rect x="90.30" y="500.00" width="5.00" height="23.30" fill="#f38183" stroke="#231f20" stroke-width="0.55"/>
<line x1="104.40" y1="500.50" x2="104.40" y2="500.00" stroke="#231f20" stroke-width="0.75"/>
<line x1="103.00" y1="500.00" x2="105.80" y2="500.00" stroke="#231f20" stroke-width="0.85"/>
<rect x="101.90" y="500.50" width="5.00" height="22.80" fill="#1a8fd6" stroke="#231f20" stroke-width="0.55"/>
<line x1="111.40" y1="479.00" x2="111.40" y2="476.00" stroke="#231f20" stroke-width="0.75"/>
<line x1="110.00" y1="476.00" x2="112.80" y2="476.00" stroke="#231f20" stroke-width="0.85"/>
<rect x="108.90" y="479.00" width="5.00" height="44.30" fill="#f38183" stroke="#231f20" stroke-width="0.55"/>
<text x="111.45" y="475.59" font-size="4.4" text-anchor="middle" fill="#3a3a3a" class="st">*</text>
<text x="111.45" y="473.09" font-size="4.4" text-anchor="middle" fill="#3a3a3a" class="st">*</text>
<text x="111.45" y="470.59" font-size="4.4" text-anchor="middle" fill="#3a3a3a" class="st">*</text>
<line x1="122.80" y1="509.80" x2="122.80" y2="509.40" stroke="#231f20" stroke-width="0.75"/>
<line x1="121.40" y1="509.40" x2="124.20" y2="509.40" stroke="#231f20" stroke-width="0.85"/>
<rect x="120.30" y="509.80" width="5.00" height="13.50" fill="#1a8fd6" stroke="#231f20" stroke-width="0.55"/>
<line x1="129.60" y1="486.60" x2="129.60" y2="485.80" stroke="#231f20" stroke-width="0.75"/>
<line x1="128.20" y1="485.80" x2="131.00" y2="485.80" stroke="#231f20" stroke-width="0.85"/>
<rect x="127.10" y="486.60" width="5.00" height="36.70" fill="#f38183" stroke="#231f20" stroke-width="0.55"/>
<text x="129.65" y="484.59" font-size="4.4" text-anchor="middle" fill="#3a3a3a" class="st">*</text>
<text x="129.65" y="482.09" font-size="4.4" text-anchor="middle" fill="#3a3a3a" class="st">*</text>
<text x="129.65" y="479.59" font-size="4.4" text-anchor="middle" fill="#3a3a3a" class="st">*</text>
<rect x="44.20" y="461.60" width="89.70" height="61.70" fill="none" stroke="#231f20" stroke-width="0.8"/>
<line x1="52.35" y1="523.30" x2="52.35" y2="525.10" stroke="#231f20" stroke-width="0.6"/>
<text x="52.35" y="533.00" font-size="6.7" text-anchor="middle" font-weight="normal" font-style="normal" fill="#231f20" >0</text>
<line x1="71.05" y1="523.30" x2="71.05" y2="525.10" stroke="#231f20" stroke-width="0.6"/>
<text x="71.05" y="533.00" font-size="6.7" text-anchor="middle" font-weight="normal" font-style="normal" fill="#231f20" >2</text>
<line x1="89.25" y1="523.30" x2="89.25" y2="525.10" stroke="#231f20" stroke-width="0.6"/>
<text x="89.25" y="533.00" font-size="6.7" text-anchor="middle" font-weight="normal" font-style="normal" fill="#231f20" >4</text>
<line x1="107.90" y1="523.30" x2="107.90" y2="525.10" stroke="#231f20" stroke-width="0.6"/>
<text x="107.90" y="533.00" font-size="6.7" text-anchor="middle" font-weight="normal" font-style="normal" fill="#231f20" >6</text>
<line x1="126.20" y1="523.30" x2="126.20" y2="525.10" stroke="#231f20" stroke-width="0.6"/>
<text x="126.20" y="533.00" font-size="6.7" text-anchor="middle" font-weight="normal" font-style="normal" fill="#231f20" >8</text>
<text x="89.05" y="541.00" font-size="6.4" text-anchor="middle" font-weight="normal" font-style="normal" fill="#231f20" >Hours after cold treatment</text>
<text x="0" y="0" font-size="6.1" text-anchor="middle" fill="#231f20" transform="translate(23.40 493.20) rotate(-90)">Relative expression</text>
<text x="144.50" y="461.40" font-size="8.8" text-anchor="start" font-weight="bold" font-style="normal" fill="#231f20" >O</text>
<text x="213.90" y="459.70" font-size="6.8" text-anchor="middle" font-weight="bold" fill="#231f20" class="tt"><tspan font-style="italic">AtPR1</tspan> (AT2G14610)</text>
<line x1="164.30" y1="461.50" x2="167.70" y2="461.50" stroke="#231f20" stroke-width="0.9"/>
<text x="163.50" y="463.50" font-size="6.7" text-anchor="end" font-weight="normal" font-style="normal" fill="#231f20" >50</text>
<line x1="164.30" y1="473.50" x2="167.70" y2="473.50" stroke="#231f20" stroke-width="0.9"/>
<text x="163.50" y="475.82" font-size="6.7" text-anchor="end" font-weight="normal" font-style="normal" fill="#231f20" >40</text>
<line x1="164.30" y1="486.50" x2="167.70" y2="486.50" stroke="#231f20" stroke-width="0.9"/>
<text x="163.50" y="488.14" font-size="6.7" text-anchor="end" font-weight="normal" font-style="normal" fill="#231f20" >30</text>
<line x1="164.30" y1="498.50" x2="167.70" y2="498.50" stroke="#231f20" stroke-width="0.9"/>
<text x="163.50" y="500.46" font-size="6.7" text-anchor="end" font-weight="normal" font-style="normal" fill="#231f20" >20</text>
<line x1="164.30" y1="510.50" x2="167.70" y2="510.50" stroke="#231f20" stroke-width="0.9"/>
<text x="163.50" y="512.78" font-size="6.7" text-anchor="end" font-weight="normal" font-style="normal" fill="#231f20" >10</text>
<line x1="164.30" y1="523.50" x2="167.70" y2="523.50" stroke="#231f20" stroke-width="0.9"/>
<text x="163.50" y="525.10" font-size="6.7" text-anchor="end" font-weight="normal" font-style="normal" fill="#231f20" >0</text>
<rect x="170.00" y="522.30" width="4.80" height="0.90" fill="#1a8fd6" stroke="#231f20" stroke-width="0.55"/>
<line x1="179.40" y1="505.00" x2="179.40" y2="503.60" stroke="#231f20" stroke-width="0.75"/>
<line x1="178.00" y1="503.60" x2="180.80" y2="503.60" stroke="#231f20" stroke-width="0.85"/>
<rect x="177.00" y="505.00" width="4.80" height="18.20" fill="#f38183" stroke="#231f20" stroke-width="0.55"/>
<text x="179.45" y="503.39" font-size="4.4" text-anchor="middle" fill="#3a3a3a" class="st">*</text>
<text x="179.45" y="500.89" font-size="4.4" text-anchor="middle" fill="#3a3a3a" class="st">*</text>
<text x="179.45" y="498.39" font-size="4.4" text-anchor="middle" fill="#3a3a3a" class="st">*</text>
<line x1="190.70" y1="518.90" x2="190.70" y2="516.50" stroke="#231f20" stroke-width="0.75"/>
<line x1="189.30" y1="516.50" x2="192.10" y2="516.50" stroke="#231f20" stroke-width="0.85"/>
<rect x="188.30" y="518.90" width="4.80" height="4.30" fill="#1a8fd6" stroke="#231f20" stroke-width="0.55"/>
<line x1="197.60" y1="477.30" x2="197.60" y2="471.80" stroke="#231f20" stroke-width="0.75"/>
<line x1="196.20" y1="471.80" x2="199.00" y2="471.80" stroke="#231f20" stroke-width="0.85"/>
<rect x="195.20" y="477.30" width="4.80" height="45.90" fill="#f38183" stroke="#231f20" stroke-width="0.55"/>
<text x="197.65" y="471.39" font-size="4.4" text-anchor="middle" fill="#3a3a3a" class="st">*</text>
<text x="197.65" y="468.89" font-size="4.4" text-anchor="middle" fill="#3a3a3a" class="st">*</text>
<text x="197.65" y="466.39" font-size="4.4" text-anchor="middle" fill="#3a3a3a" class="st">*</text>
<rect x="207.00" y="522.50" width="4.80" height="0.70" fill="#1a8fd6" stroke="#231f20" stroke-width="0.55"/>
<line x1="216.20" y1="500.00" x2="216.20" y2="498.00" stroke="#231f20" stroke-width="0.75"/>
<line x1="214.80" y1="498.00" x2="217.60" y2="498.00" stroke="#231f20" stroke-width="0.85"/>
<rect x="213.80" y="500.00" width="4.80" height="23.20" fill="#f38183" stroke="#231f20" stroke-width="0.55"/>
<text x="216.25" y="498.19" font-size="4.4" text-anchor="middle" fill="#3a3a3a" class="st">*</text>
<text x="216.25" y="495.69" font-size="4.4" text-anchor="middle" fill="#3a3a3a" class="st">*</text>
<text x="216.25" y="493.19" font-size="4.4" text-anchor="middle" fill="#3a3a3a" class="st">*</text>
<rect x="225.50" y="522.70" width="4.80" height="0.50" fill="#1a8fd6" stroke="#231f20" stroke-width="0.55"/>
<line x1="234.70" y1="505.00" x2="234.70" y2="503.00" stroke="#231f20" stroke-width="0.75"/>
<line x1="233.30" y1="503.00" x2="236.10" y2="503.00" stroke="#231f20" stroke-width="0.85"/>
<rect x="232.30" y="505.00" width="4.80" height="18.20" fill="#f38183" stroke="#231f20" stroke-width="0.55"/>
<text x="234.75" y="502.99" font-size="4.4" text-anchor="middle" fill="#3a3a3a" class="st">*</text>
<text x="234.75" y="500.49" font-size="4.4" text-anchor="middle" fill="#3a3a3a" class="st">*</text>
<text x="234.75" y="497.99" font-size="4.4" text-anchor="middle" fill="#3a3a3a" class="st">*</text>
<line x1="246.40" y1="521.20" x2="246.40" y2="520.80" stroke="#231f20" stroke-width="0.75"/>
<line x1="245.00" y1="520.80" x2="247.80" y2="520.80" stroke="#231f20" stroke-width="0.85"/>
<rect x="244.00" y="521.20" width="4.80" height="2.00" fill="#1a8fd6" stroke="#231f20" stroke-width="0.55"/>
<line x1="253.20" y1="503.80" x2="253.20" y2="502.00" stroke="#231f20" stroke-width="0.75"/>
<line x1="251.80" y1="502.00" x2="254.60" y2="502.00" stroke="#231f20" stroke-width="0.85"/>
<rect x="250.80" y="503.80" width="4.80" height="19.40" fill="#f38183" stroke="#231f20" stroke-width="0.55"/>
<text x="253.25" y="501.99" font-size="4.4" text-anchor="middle" fill="#3a3a3a" class="st">*</text>
<text x="253.25" y="499.49" font-size="4.4" text-anchor="middle" fill="#3a3a3a" class="st">*</text>
<text x="253.25" y="496.99" font-size="4.4" text-anchor="middle" fill="#3a3a3a" class="st">*</text>
<rect x="167.70" y="461.60" width="90.70" height="61.60" fill="none" stroke="#231f20" stroke-width="0.8"/>
<line x1="175.90" y1="523.20" x2="175.90" y2="525.00" stroke="#231f20" stroke-width="0.6"/>
<text x="175.90" y="533.00" font-size="6.7" text-anchor="middle" font-weight="normal" font-style="normal" fill="#231f20" >0</text>
<line x1="194.15" y1="523.20" x2="194.15" y2="525.00" stroke="#231f20" stroke-width="0.6"/>
<text x="194.15" y="533.00" font-size="6.7" text-anchor="middle" font-weight="normal" font-style="normal" fill="#231f20" >2</text>
<line x1="212.80" y1="523.20" x2="212.80" y2="525.00" stroke="#231f20" stroke-width="0.6"/>
<text x="212.80" y="533.00" font-size="6.7" text-anchor="middle" font-weight="normal" font-style="normal" fill="#231f20" >4</text>
<line x1="231.30" y1="523.20" x2="231.30" y2="525.00" stroke="#231f20" stroke-width="0.6"/>
<text x="231.30" y="533.00" font-size="6.7" text-anchor="middle" font-weight="normal" font-style="normal" fill="#231f20" >6</text>
<line x1="249.80" y1="523.20" x2="249.80" y2="525.00" stroke="#231f20" stroke-width="0.6"/>
<text x="249.80" y="533.00" font-size="6.7" text-anchor="middle" font-weight="normal" font-style="normal" fill="#231f20" >8</text>
<text x="213.05" y="541.00" font-size="6.4" text-anchor="middle" font-weight="normal" font-style="normal" fill="#231f20" >Hours after cold treatment</text>
<text x="268.20" y="461.40" font-size="8.8" text-anchor="start" font-weight="bold" font-style="normal" fill="#231f20" >P</text>
<text x="339.30" y="459.70" font-size="6.8" text-anchor="middle" font-weight="bold" fill="#231f20" class="tt"><tspan font-style="italic">AtPR2</tspan> (AT3G57260)</text>
<line x1="290.80" y1="461.50" x2="294.20" y2="461.50" stroke="#231f20" stroke-width="0.9"/>
<text x="290.00" y="463.50" font-size="6.7" text-anchor="end" font-weight="normal" font-style="normal" fill="#231f20" >10</text>
<line x1="290.80" y1="473.50" x2="294.20" y2="473.50" stroke="#231f20" stroke-width="0.9"/>
<text x="290.00" y="475.78" font-size="6.7" text-anchor="end" font-weight="normal" font-style="normal" fill="#231f20" >8</text>
<line x1="290.80" y1="486.50" x2="294.20" y2="486.50" stroke="#231f20" stroke-width="0.9"/>
<text x="290.00" y="488.06" font-size="6.7" text-anchor="end" font-weight="normal" font-style="normal" fill="#231f20" >6</text>
<line x1="290.80" y1="498.50" x2="294.20" y2="498.50" stroke="#231f20" stroke-width="0.9"/>
<text x="290.00" y="500.34" font-size="6.7" text-anchor="end" font-weight="normal" font-style="normal" fill="#231f20" >4</text>
<line x1="290.80" y1="510.50" x2="294.20" y2="510.50" stroke="#231f20" stroke-width="0.9"/>
<text x="290.00" y="512.62" font-size="6.7" text-anchor="end" font-weight="normal" font-style="normal" fill="#231f20" >2</text>
<line x1="290.80" y1="523.50" x2="294.20" y2="523.50" stroke="#231f20" stroke-width="0.9"/>
<text x="290.00" y="524.90" font-size="6.7" text-anchor="end" font-weight="normal" font-style="normal" fill="#231f20" >0</text>
<line x1="298.70" y1="516.90" x2="298.70" y2="516.40" stroke="#231f20" stroke-width="0.75"/>
<line x1="297.30" y1="516.40" x2="300.10" y2="516.40" stroke="#231f20" stroke-width="0.85"/>
<rect x="296.30" y="516.90" width="4.80" height="6.10" fill="#1a8fd6" stroke="#231f20" stroke-width="0.55"/>
<line x1="305.60" y1="506.00" x2="305.60" y2="503.30" stroke="#231f20" stroke-width="0.75"/>
<line x1="304.20" y1="503.30" x2="307.00" y2="503.30" stroke="#231f20" stroke-width="0.85"/>
<rect x="303.20" y="506.00" width="4.80" height="17.00" fill="#f38183" stroke="#231f20" stroke-width="0.55"/>
<text x="305.65" y="502.19" font-size="4.4" text-anchor="middle" fill="#3a3a3a" class="st">*</text>
<text x="305.65" y="499.69" font-size="4.4" text-anchor="middle" fill="#3a3a3a" class="st">*</text>
<line x1="317.50" y1="485.90" x2="317.50" y2="482.30" stroke="#231f20" stroke-width="0.75"/>
<line x1="316.10" y1="482.30" x2="318.90" y2="482.30" stroke="#231f20" stroke-width="0.85"/>
<rect x="315.00" y="485.90" width="5.00" height="37.10" fill="#1a8fd6" stroke="#231f20" stroke-width="0.55"/>
<line x1="324.55" y1="510.70" x2="324.55" y2="505.00" stroke="#231f20" stroke-width="0.75"/>
<line x1="323.15" y1="505.00" x2="325.95" y2="505.00" stroke="#231f20" stroke-width="0.85"/>
<rect x="322.10" y="510.70" width="4.90" height="12.30" fill="#f38183" stroke="#231f20" stroke-width="0.55"/>
<text x="324.60" y="503.99" font-size="4.4" text-anchor="middle" fill="#3a3a3a" class="st">*</text>
<text x="324.60" y="501.49" font-size="4.4" text-anchor="middle" fill="#3a3a3a" class="st">*</text>
<line x1="335.90" y1="511.10" x2="335.90" y2="509.30" stroke="#231f20" stroke-width="0.75"/>
<line x1="334.50" y1="509.30" x2="337.30" y2="509.30" stroke="#231f20" stroke-width="0.85"/>
<rect x="333.40" y="511.10" width="5.00" height="11.90" fill="#1a8fd6" stroke="#231f20" stroke-width="0.55"/>
<line x1="343.00" y1="479.00" x2="343.00" y2="475.30" stroke="#231f20" stroke-width="0.75"/>
<line x1="341.60" y1="475.30" x2="344.40" y2="475.30" stroke="#231f20" stroke-width="0.85"/>
<rect x="340.50" y="479.00" width="5.00" height="44.00" fill="#f38183" stroke="#231f20" stroke-width="0.55"/>
<text x="343.05" y="474.39" font-size="4.4" text-anchor="middle" fill="#3a3a3a" class="st">*</text>
<text x="343.05" y="471.89" font-size="4.4" text-anchor="middle" fill="#3a3a3a" class="st">*</text>
<text x="343.05" y="469.39" font-size="4.4" text-anchor="middle" fill="#3a3a3a" class="st">*</text>
<text x="343.05" y="466.89" font-size="4.4" text-anchor="middle" fill="#3a3a3a" class="st">*</text>
<line x1="354.40" y1="502.30" x2="354.40" y2="500.00" stroke="#231f20" stroke-width="0.75"/>
<line x1="353.00" y1="500.00" x2="355.80" y2="500.00" stroke="#231f20" stroke-width="0.85"/>
<rect x="351.90" y="502.30" width="5.00" height="20.70" fill="#1a8fd6" stroke="#231f20" stroke-width="0.55"/>
<line x1="361.40" y1="501.30" x2="361.40" y2="495.00" stroke="#231f20" stroke-width="0.75"/>
<line x1="360.00" y1="495.00" x2="362.80" y2="495.00" stroke="#231f20" stroke-width="0.85"/>
<rect x="358.90" y="501.30" width="5.00" height="21.70" fill="#f38183" stroke="#231f20" stroke-width="0.55"/>
<line x1="373.30" y1="516.20" x2="373.30" y2="515.60" stroke="#231f20" stroke-width="0.75"/>
<line x1="371.90" y1="515.60" x2="374.70" y2="515.60" stroke="#231f20" stroke-width="0.85"/>
<rect x="370.80" y="516.20" width="5.00" height="6.80" fill="#1a8fd6" stroke="#231f20" stroke-width="0.55"/>
<line x1="380.10" y1="514.90" x2="380.10" y2="513.00" stroke="#231f20" stroke-width="0.75"/>
<line x1="378.70" y1="513.00" x2="381.50" y2="513.00" stroke="#231f20" stroke-width="0.85"/>
<rect x="377.60" y="514.90" width="5.00" height="8.10" fill="#f38183" stroke="#231f20" stroke-width="0.55"/>
<rect x="294.20" y="461.60" width="90.00" height="61.40" fill="none" stroke="#231f20" stroke-width="0.8"/>
<line x1="302.15" y1="523.00" x2="302.15" y2="524.80" stroke="#231f20" stroke-width="0.6"/>
<text x="302.15" y="533.00" font-size="6.7" text-anchor="middle" font-weight="normal" font-style="normal" fill="#231f20" >0</text>
<line x1="321.00" y1="523.00" x2="321.00" y2="524.80" stroke="#231f20" stroke-width="0.6"/>
<text x="321.00" y="533.00" font-size="6.7" text-anchor="middle" font-weight="normal" font-style="normal" fill="#231f20" >2</text>
<line x1="339.45" y1="523.00" x2="339.45" y2="524.80" stroke="#231f20" stroke-width="0.6"/>
<text x="339.45" y="533.00" font-size="6.7" text-anchor="middle" font-weight="normal" font-style="normal" fill="#231f20" >4</text>
<line x1="357.90" y1="523.00" x2="357.90" y2="524.80" stroke="#231f20" stroke-width="0.6"/>
<text x="357.90" y="533.00" font-size="6.7" text-anchor="middle" font-weight="normal" font-style="normal" fill="#231f20" >6</text>
<line x1="376.70" y1="523.00" x2="376.70" y2="524.80" stroke="#231f20" stroke-width="0.6"/>
<text x="376.70" y="533.00" font-size="6.7" text-anchor="middle" font-weight="normal" font-style="normal" fill="#231f20" >8</text>
<text x="339.20" y="541.00" font-size="6.4" text-anchor="middle" font-weight="normal" font-style="normal" fill="#231f20" >Hours after cold treatment</text>
</svg></div>
</body></html>
